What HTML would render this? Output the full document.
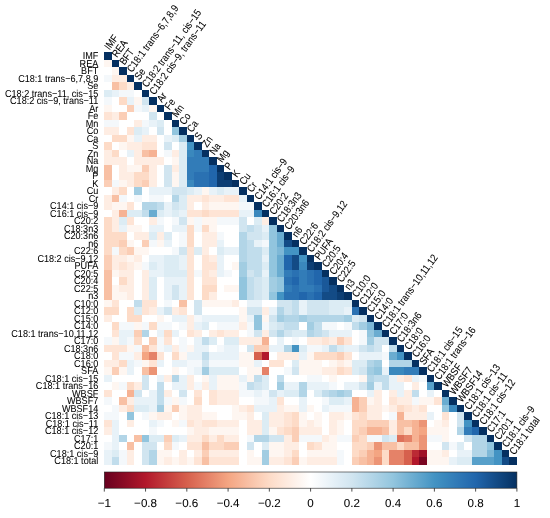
<!DOCTYPE html><html><head><meta charset="utf-8"><style>html,body{margin:0;padding:0;background:#fff;}svg{display:block;}text{font-family:"Liberation Sans",Arial,sans-serif;fill:#000;text-rendering:geometricPrecision;stroke:#000;stroke-width:0.05px;}</style></head><body>
<svg width="550" height="518" viewBox="0 0 550 518">
<rect width="550" height="518" fill="#fff"/>
<g shape-rendering="crispEdges">
<rect x="104.20" y="52.20" width="7.55" height="7.55" fill="#053061"/>
<rect x="104.20" y="59.70" width="7.55" height="7.55" fill="#fef6f1"/>
<rect x="111.70" y="59.70" width="7.55" height="7.55" fill="#053061"/>
<rect x="104.20" y="67.20" width="7.55" height="7.55" fill="#ffffff"/>
<rect x="111.70" y="67.20" width="7.55" height="7.55" fill="#fef6f1"/>
<rect x="119.20" y="67.20" width="7.55" height="7.55" fill="#053061"/>
<rect x="104.20" y="74.70" width="7.55" height="7.55" fill="#f4f8fb"/>
<rect x="111.70" y="74.70" width="7.55" height="7.55" fill="#feede3"/>
<rect x="119.20" y="74.70" width="7.55" height="7.55" fill="#feede3"/>
<rect x="126.70" y="74.70" width="7.55" height="7.55" fill="#053061"/>
<rect x="104.20" y="82.20" width="7.55" height="7.55" fill="#ffffff"/>
<rect x="111.70" y="82.20" width="7.55" height="7.55" fill="#f8c0a4"/>
<rect x="119.20" y="82.20" width="7.55" height="7.55" fill="#fddbc7"/>
<rect x="126.70" y="82.20" width="7.55" height="7.55" fill="#feede3"/>
<rect x="134.20" y="82.20" width="7.55" height="7.55" fill="#053061"/>
<rect x="104.20" y="89.70" width="7.55" height="7.55" fill="#dcecf4"/>
<rect x="111.70" y="89.70" width="7.55" height="7.55" fill="#e8f2f8"/>
<rect x="119.20" y="89.70" width="7.55" height="7.55" fill="#f4f8fb"/>
<rect x="126.70" y="89.70" width="7.55" height="7.55" fill="#f4f8fb"/>
<rect x="134.20" y="89.70" width="7.55" height="7.55" fill="#ffffff"/>
<rect x="141.70" y="89.70" width="7.55" height="7.55" fill="#053061"/>
<rect x="104.20" y="97.20" width="7.55" height="7.55" fill="#f4f8fb"/>
<rect x="111.70" y="97.20" width="7.55" height="7.55" fill="#ffffff"/>
<rect x="119.20" y="97.20" width="7.55" height="7.55" fill="#fddbc7"/>
<rect x="126.70" y="97.20" width="7.55" height="7.55" fill="#e8f2f8"/>
<rect x="134.20" y="97.20" width="7.55" height="7.55" fill="#fef6f1"/>
<rect x="141.70" y="97.20" width="7.55" height="7.55" fill="#d1e5f0"/>
<rect x="149.20" y="97.20" width="7.55" height="7.55" fill="#053061"/>
<rect x="104.20" y="104.70" width="7.55" height="7.55" fill="#fef6f1"/>
<rect x="111.70" y="104.70" width="7.55" height="7.55" fill="#ffffff"/>
<rect x="119.20" y="104.70" width="7.55" height="7.55" fill="#ffffff"/>
<rect x="126.70" y="104.70" width="7.55" height="7.55" fill="#fbceb6"/>
<rect x="134.20" y="104.70" width="7.55" height="7.55" fill="#f4f8fb"/>
<rect x="141.70" y="104.70" width="7.55" height="7.55" fill="#e8f2f8"/>
<rect x="149.20" y="104.70" width="7.55" height="7.55" fill="#fef6f1"/>
<rect x="156.70" y="104.70" width="7.55" height="7.55" fill="#053061"/>
<rect x="104.20" y="112.20" width="7.55" height="7.55" fill="#fee4d5"/>
<rect x="111.70" y="112.20" width="7.55" height="7.55" fill="#feede3"/>
<rect x="119.20" y="112.20" width="7.55" height="7.55" fill="#fbceb6"/>
<rect x="126.70" y="112.20" width="7.55" height="7.55" fill="#ffffff"/>
<rect x="134.20" y="112.20" width="7.55" height="7.55" fill="#ffffff"/>
<rect x="141.70" y="112.20" width="7.55" height="7.55" fill="#ffffff"/>
<rect x="149.20" y="112.20" width="7.55" height="7.55" fill="#d1e5f0"/>
<rect x="156.70" y="112.20" width="7.55" height="7.55" fill="#ffffff"/>
<rect x="164.20" y="112.20" width="7.55" height="7.55" fill="#053061"/>
<rect x="104.20" y="119.70" width="7.55" height="7.55" fill="#f4f8fb"/>
<rect x="111.70" y="119.70" width="7.55" height="7.55" fill="#f4f8fb"/>
<rect x="119.20" y="119.70" width="7.55" height="7.55" fill="#ffffff"/>
<rect x="126.70" y="119.70" width="7.55" height="7.55" fill="#ffffff"/>
<rect x="134.20" y="119.70" width="7.55" height="7.55" fill="#feede3"/>
<rect x="141.70" y="119.70" width="7.55" height="7.55" fill="#f4f8fb"/>
<rect x="149.20" y="119.70" width="7.55" height="7.55" fill="#e8f2f8"/>
<rect x="156.70" y="119.70" width="7.55" height="7.55" fill="#dcecf4"/>
<rect x="164.20" y="119.70" width="7.55" height="7.55" fill="#ffffff"/>
<rect x="171.70" y="119.70" width="7.55" height="7.55" fill="#053061"/>
<rect x="104.20" y="127.20" width="7.55" height="7.55" fill="#feede3"/>
<rect x="111.70" y="127.20" width="7.55" height="7.55" fill="#feede3"/>
<rect x="119.20" y="127.20" width="7.55" height="7.55" fill="#ffffff"/>
<rect x="126.70" y="127.20" width="7.55" height="7.55" fill="#fee4d5"/>
<rect x="134.20" y="127.20" width="7.55" height="7.55" fill="#dcecf4"/>
<rect x="141.70" y="127.20" width="7.55" height="7.55" fill="#e8f2f8"/>
<rect x="149.20" y="127.20" width="7.55" height="7.55" fill="#ffffff"/>
<rect x="156.70" y="127.20" width="7.55" height="7.55" fill="#d1e5f0"/>
<rect x="164.20" y="127.20" width="7.55" height="7.55" fill="#ffffff"/>
<rect x="171.70" y="127.20" width="7.55" height="7.55" fill="#92c5de"/>
<rect x="179.20" y="127.20" width="7.55" height="7.55" fill="#053061"/>
<rect x="104.20" y="134.70" width="7.55" height="7.55" fill="#ffffff"/>
<rect x="111.70" y="134.70" width="7.55" height="7.55" fill="#fddbc7"/>
<rect x="119.20" y="134.70" width="7.55" height="7.55" fill="#fddbc7"/>
<rect x="126.70" y="134.70" width="7.55" height="7.55" fill="#fef6f1"/>
<rect x="134.20" y="134.70" width="7.55" height="7.55" fill="#e8f2f8"/>
<rect x="141.70" y="134.70" width="7.55" height="7.55" fill="#feede3"/>
<rect x="149.20" y="134.70" width="7.55" height="7.55" fill="#feede3"/>
<rect x="156.70" y="134.70" width="7.55" height="7.55" fill="#ffffff"/>
<rect x="164.20" y="134.70" width="7.55" height="7.55" fill="#e8f2f8"/>
<rect x="171.70" y="134.70" width="7.55" height="7.55" fill="#dcecf4"/>
<rect x="179.20" y="134.70" width="7.55" height="7.55" fill="#a2cde2"/>
<rect x="186.70" y="134.70" width="7.55" height="7.55" fill="#053061"/>
<rect x="104.20" y="142.20" width="7.55" height="7.55" fill="#fddbc7"/>
<rect x="111.70" y="142.20" width="7.55" height="7.55" fill="#ffffff"/>
<rect x="119.20" y="142.20" width="7.55" height="7.55" fill="#fef6f1"/>
<rect x="126.70" y="142.20" width="7.55" height="7.55" fill="#feede3"/>
<rect x="134.20" y="142.20" width="7.55" height="7.55" fill="#feede3"/>
<rect x="141.70" y="142.20" width="7.55" height="7.55" fill="#fee4d5"/>
<rect x="149.20" y="142.20" width="7.55" height="7.55" fill="#fee4d5"/>
<rect x="156.70" y="142.20" width="7.55" height="7.55" fill="#ffffff"/>
<rect x="164.20" y="142.20" width="7.55" height="7.55" fill="#d1e5f0"/>
<rect x="171.70" y="142.20" width="7.55" height="7.55" fill="#ffffff"/>
<rect x="179.20" y="142.20" width="7.55" height="7.55" fill="#dcecf4"/>
<rect x="186.70" y="142.20" width="7.55" height="7.55" fill="#4393c3"/>
<rect x="194.20" y="142.20" width="7.55" height="7.55" fill="#053061"/>
<rect x="104.20" y="149.70" width="7.55" height="7.55" fill="#feede3"/>
<rect x="111.70" y="149.70" width="7.55" height="7.55" fill="#fddbc7"/>
<rect x="119.20" y="149.70" width="7.55" height="7.55" fill="#ffffff"/>
<rect x="126.70" y="149.70" width="7.55" height="7.55" fill="#e8f2f8"/>
<rect x="134.20" y="149.70" width="7.55" height="7.55" fill="#feede3"/>
<rect x="141.70" y="149.70" width="7.55" height="7.55" fill="#f8c0a4"/>
<rect x="149.20" y="149.70" width="7.55" height="7.55" fill="#f6b293"/>
<rect x="156.70" y="149.70" width="7.55" height="7.55" fill="#ffffff"/>
<rect x="164.20" y="149.70" width="7.55" height="7.55" fill="#f4f8fb"/>
<rect x="171.70" y="149.70" width="7.55" height="7.55" fill="#feede3"/>
<rect x="179.20" y="149.70" width="7.55" height="7.55" fill="#dcecf4"/>
<rect x="186.70" y="149.70" width="7.55" height="7.55" fill="#3a88bd"/>
<rect x="194.20" y="149.70" width="7.55" height="7.55" fill="#327cb8"/>
<rect x="201.70" y="149.70" width="7.55" height="7.55" fill="#053061"/>
<rect x="104.20" y="157.20" width="7.55" height="7.55" fill="#feede3"/>
<rect x="111.70" y="157.20" width="7.55" height="7.55" fill="#feede3"/>
<rect x="119.20" y="157.20" width="7.55" height="7.55" fill="#feede3"/>
<rect x="126.70" y="157.20" width="7.55" height="7.55" fill="#ffffff"/>
<rect x="134.20" y="157.20" width="7.55" height="7.55" fill="#feede3"/>
<rect x="141.70" y="157.20" width="7.55" height="7.55" fill="#feede3"/>
<rect x="149.20" y="157.20" width="7.55" height="7.55" fill="#feede3"/>
<rect x="156.70" y="157.20" width="7.55" height="7.55" fill="#feede3"/>
<rect x="164.20" y="157.20" width="7.55" height="7.55" fill="#ffffff"/>
<rect x="171.70" y="157.20" width="7.55" height="7.55" fill="#fef6f1"/>
<rect x="179.20" y="157.20" width="7.55" height="7.55" fill="#dcecf4"/>
<rect x="186.70" y="157.20" width="7.55" height="7.55" fill="#327cb8"/>
<rect x="194.20" y="157.20" width="7.55" height="7.55" fill="#327cb8"/>
<rect x="201.70" y="157.20" width="7.55" height="7.55" fill="#327cb8"/>
<rect x="209.20" y="157.20" width="7.55" height="7.55" fill="#053061"/>
<rect x="104.20" y="164.70" width="7.55" height="7.55" fill="#f8c0a4"/>
<rect x="111.70" y="164.70" width="7.55" height="7.55" fill="#ffffff"/>
<rect x="119.20" y="164.70" width="7.55" height="7.55" fill="#feede3"/>
<rect x="126.70" y="164.70" width="7.55" height="7.55" fill="#fef6f1"/>
<rect x="134.20" y="164.70" width="7.55" height="7.55" fill="#fef6f1"/>
<rect x="141.70" y="164.70" width="7.55" height="7.55" fill="#fbceb6"/>
<rect x="149.20" y="164.70" width="7.55" height="7.55" fill="#feede3"/>
<rect x="156.70" y="164.70" width="7.55" height="7.55" fill="#ffffff"/>
<rect x="164.20" y="164.70" width="7.55" height="7.55" fill="#d1e5f0"/>
<rect x="171.70" y="164.70" width="7.55" height="7.55" fill="#feede3"/>
<rect x="179.20" y="164.70" width="7.55" height="7.55" fill="#dcecf4"/>
<rect x="186.70" y="164.70" width="7.55" height="7.55" fill="#327cb8"/>
<rect x="194.20" y="164.70" width="7.55" height="7.55" fill="#327cb8"/>
<rect x="201.70" y="164.70" width="7.55" height="7.55" fill="#327cb8"/>
<rect x="209.20" y="164.70" width="7.55" height="7.55" fill="#2166ac"/>
<rect x="216.70" y="164.70" width="7.55" height="7.55" fill="#053061"/>
<rect x="104.20" y="172.20" width="7.55" height="7.55" fill="#f8c0a4"/>
<rect x="111.70" y="172.20" width="7.55" height="7.55" fill="#ffffff"/>
<rect x="119.20" y="172.20" width="7.55" height="7.55" fill="#feede3"/>
<rect x="126.70" y="172.20" width="7.55" height="7.55" fill="#feede3"/>
<rect x="134.20" y="172.20" width="7.55" height="7.55" fill="#fddbc7"/>
<rect x="141.70" y="172.20" width="7.55" height="7.55" fill="#fddbc7"/>
<rect x="149.20" y="172.20" width="7.55" height="7.55" fill="#feede3"/>
<rect x="156.70" y="172.20" width="7.55" height="7.55" fill="#ffffff"/>
<rect x="164.20" y="172.20" width="7.55" height="7.55" fill="#d1e5f0"/>
<rect x="171.70" y="172.20" width="7.55" height="7.55" fill="#fef6f1"/>
<rect x="179.20" y="172.20" width="7.55" height="7.55" fill="#dcecf4"/>
<rect x="186.70" y="172.20" width="7.55" height="7.55" fill="#327cb8"/>
<rect x="194.20" y="172.20" width="7.55" height="7.55" fill="#2a71b2"/>
<rect x="201.70" y="172.20" width="7.55" height="7.55" fill="#2a71b2"/>
<rect x="209.20" y="172.20" width="7.55" height="7.55" fill="#2166ac"/>
<rect x="216.70" y="172.20" width="7.55" height="7.55" fill="#0c3e74"/>
<rect x="224.20" y="172.20" width="7.55" height="7.55" fill="#053061"/>
<rect x="104.20" y="179.70" width="7.55" height="7.55" fill="#fbceb6"/>
<rect x="111.70" y="179.70" width="7.55" height="7.55" fill="#f4f8fb"/>
<rect x="119.20" y="179.70" width="7.55" height="7.55" fill="#fef6f1"/>
<rect x="126.70" y="179.70" width="7.55" height="7.55" fill="#feede3"/>
<rect x="134.20" y="179.70" width="7.55" height="7.55" fill="#fddbc7"/>
<rect x="141.70" y="179.70" width="7.55" height="7.55" fill="#fbceb6"/>
<rect x="149.20" y="179.70" width="7.55" height="7.55" fill="#feede3"/>
<rect x="156.70" y="179.70" width="7.55" height="7.55" fill="#ffffff"/>
<rect x="164.20" y="179.70" width="7.55" height="7.55" fill="#d1e5f0"/>
<rect x="171.70" y="179.70" width="7.55" height="7.55" fill="#fef6f1"/>
<rect x="179.20" y="179.70" width="7.55" height="7.55" fill="#dcecf4"/>
<rect x="186.70" y="179.70" width="7.55" height="7.55" fill="#3a88bd"/>
<rect x="194.20" y="179.70" width="7.55" height="7.55" fill="#2a71b2"/>
<rect x="201.70" y="179.70" width="7.55" height="7.55" fill="#2a71b2"/>
<rect x="209.20" y="179.70" width="7.55" height="7.55" fill="#2166ac"/>
<rect x="216.70" y="179.70" width="7.55" height="7.55" fill="#0c3e74"/>
<rect x="224.20" y="179.70" width="7.55" height="7.55" fill="#0c3e74"/>
<rect x="231.70" y="179.70" width="7.55" height="7.55" fill="#053061"/>
<rect x="104.20" y="187.20" width="7.55" height="7.55" fill="#ffffff"/>
<rect x="111.70" y="187.20" width="7.55" height="7.55" fill="#feede3"/>
<rect x="119.20" y="187.20" width="7.55" height="7.55" fill="#fddbc7"/>
<rect x="126.70" y="187.20" width="7.55" height="7.55" fill="#ffffff"/>
<rect x="134.20" y="187.20" width="7.55" height="7.55" fill="#a2cde2"/>
<rect x="141.70" y="187.20" width="7.55" height="7.55" fill="#ffffff"/>
<rect x="149.20" y="187.20" width="7.55" height="7.55" fill="#e8f2f8"/>
<rect x="156.70" y="187.20" width="7.55" height="7.55" fill="#e8f2f8"/>
<rect x="164.20" y="187.20" width="7.55" height="7.55" fill="#e8f2f8"/>
<rect x="171.70" y="187.20" width="7.55" height="7.55" fill="#d1e5f0"/>
<rect x="179.20" y="187.20" width="7.55" height="7.55" fill="#d1e5f0"/>
<rect x="186.70" y="187.20" width="7.55" height="7.55" fill="#dcecf4"/>
<rect x="194.20" y="187.20" width="7.55" height="7.55" fill="#e8f2f8"/>
<rect x="201.70" y="187.20" width="7.55" height="7.55" fill="#fef6f1"/>
<rect x="209.20" y="187.20" width="7.55" height="7.55" fill="#e8f2f8"/>
<rect x="216.70" y="187.20" width="7.55" height="7.55" fill="#dcecf4"/>
<rect x="224.20" y="187.20" width="7.55" height="7.55" fill="#e8f2f8"/>
<rect x="231.70" y="187.20" width="7.55" height="7.55" fill="#e8f2f8"/>
<rect x="239.20" y="187.20" width="7.55" height="7.55" fill="#053061"/>
<rect x="104.20" y="194.70" width="7.55" height="7.55" fill="#feede3"/>
<rect x="111.70" y="194.70" width="7.55" height="7.55" fill="#f8c0a4"/>
<rect x="119.20" y="194.70" width="7.55" height="7.55" fill="#f4f8fb"/>
<rect x="126.70" y="194.70" width="7.55" height="7.55" fill="#ffffff"/>
<rect x="134.20" y="194.70" width="7.55" height="7.55" fill="#f4f8fb"/>
<rect x="141.70" y="194.70" width="7.55" height="7.55" fill="#ffffff"/>
<rect x="149.20" y="194.70" width="7.55" height="7.55" fill="#f4f8fb"/>
<rect x="156.70" y="194.70" width="7.55" height="7.55" fill="#f4f8fb"/>
<rect x="164.20" y="194.70" width="7.55" height="7.55" fill="#ffffff"/>
<rect x="171.70" y="194.70" width="7.55" height="7.55" fill="#b2d5e7"/>
<rect x="179.20" y="194.70" width="7.55" height="7.55" fill="#dcecf4"/>
<rect x="186.70" y="194.70" width="7.55" height="7.55" fill="#feede3"/>
<rect x="194.20" y="194.70" width="7.55" height="7.55" fill="#feede3"/>
<rect x="201.70" y="194.70" width="7.55" height="7.55" fill="#fee4d5"/>
<rect x="209.20" y="194.70" width="7.55" height="7.55" fill="#feede3"/>
<rect x="216.70" y="194.70" width="7.55" height="7.55" fill="#feede3"/>
<rect x="224.20" y="194.70" width="7.55" height="7.55" fill="#fee4d5"/>
<rect x="231.70" y="194.70" width="7.55" height="7.55" fill="#fee4d5"/>
<rect x="239.20" y="194.70" width="7.55" height="7.55" fill="#e8f2f8"/>
<rect x="246.70" y="194.70" width="7.55" height="7.55" fill="#053061"/>
<rect x="104.20" y="202.20" width="7.55" height="7.55" fill="#feede3"/>
<rect x="111.70" y="202.20" width="7.55" height="7.55" fill="#fef6f1"/>
<rect x="119.20" y="202.20" width="7.55" height="7.55" fill="#fef6f1"/>
<rect x="126.70" y="202.20" width="7.55" height="7.55" fill="#fee4d5"/>
<rect x="134.20" y="202.20" width="7.55" height="7.55" fill="#ffffff"/>
<rect x="141.70" y="202.20" width="7.55" height="7.55" fill="#b2d5e7"/>
<rect x="149.20" y="202.20" width="7.55" height="7.55" fill="#b2d5e7"/>
<rect x="156.70" y="202.20" width="7.55" height="7.55" fill="#c1ddec"/>
<rect x="164.20" y="202.20" width="7.55" height="7.55" fill="#e8f2f8"/>
<rect x="171.70" y="202.20" width="7.55" height="7.55" fill="#d1e5f0"/>
<rect x="179.20" y="202.20" width="7.55" height="7.55" fill="#dcecf4"/>
<rect x="186.70" y="202.20" width="7.55" height="7.55" fill="#feede3"/>
<rect x="194.20" y="202.20" width="7.55" height="7.55" fill="#ffffff"/>
<rect x="201.70" y="202.20" width="7.55" height="7.55" fill="#feede3"/>
<rect x="209.20" y="202.20" width="7.55" height="7.55" fill="#fef6f1"/>
<rect x="216.70" y="202.20" width="7.55" height="7.55" fill="#fef6f1"/>
<rect x="224.20" y="202.20" width="7.55" height="7.55" fill="#fef6f1"/>
<rect x="231.70" y="202.20" width="7.55" height="7.55" fill="#fef6f1"/>
<rect x="239.20" y="202.20" width="7.55" height="7.55" fill="#f4f8fb"/>
<rect x="246.70" y="202.20" width="7.55" height="7.55" fill="#f4f8fb"/>
<rect x="254.20" y="202.20" width="7.55" height="7.55" fill="#053061"/>
<rect x="104.20" y="209.70" width="7.55" height="7.55" fill="#ffffff"/>
<rect x="111.70" y="209.70" width="7.55" height="7.55" fill="#feede3"/>
<rect x="119.20" y="209.70" width="7.55" height="7.55" fill="#f6b293"/>
<rect x="126.70" y="209.70" width="7.55" height="7.55" fill="#dcecf4"/>
<rect x="134.20" y="209.70" width="7.55" height="7.55" fill="#dcecf4"/>
<rect x="141.70" y="209.70" width="7.55" height="7.55" fill="#c1ddec"/>
<rect x="149.20" y="209.70" width="7.55" height="7.55" fill="#6aacd0"/>
<rect x="156.70" y="209.70" width="7.55" height="7.55" fill="#dcecf4"/>
<rect x="164.20" y="209.70" width="7.55" height="7.55" fill="#e8f2f8"/>
<rect x="171.70" y="209.70" width="7.55" height="7.55" fill="#dcecf4"/>
<rect x="179.20" y="209.70" width="7.55" height="7.55" fill="#e8f2f8"/>
<rect x="186.70" y="209.70" width="7.55" height="7.55" fill="#fee4d5"/>
<rect x="194.20" y="209.70" width="7.55" height="7.55" fill="#fee4d5"/>
<rect x="201.70" y="209.70" width="7.55" height="7.55" fill="#fddbc7"/>
<rect x="209.20" y="209.70" width="7.55" height="7.55" fill="#fee4d5"/>
<rect x="216.70" y="209.70" width="7.55" height="7.55" fill="#fee4d5"/>
<rect x="224.20" y="209.70" width="7.55" height="7.55" fill="#fee4d5"/>
<rect x="231.70" y="209.70" width="7.55" height="7.55" fill="#fee4d5"/>
<rect x="239.20" y="209.70" width="7.55" height="7.55" fill="#e8f2f8"/>
<rect x="246.70" y="209.70" width="7.55" height="7.55" fill="#e8f2f8"/>
<rect x="254.20" y="209.70" width="7.55" height="7.55" fill="#3a88bd"/>
<rect x="261.70" y="209.70" width="7.55" height="7.55" fill="#053061"/>
<rect x="104.20" y="217.20" width="7.55" height="7.55" fill="#fddbc7"/>
<rect x="111.70" y="217.20" width="7.55" height="7.55" fill="#feede3"/>
<rect x="119.20" y="217.20" width="7.55" height="7.55" fill="#dcecf4"/>
<rect x="126.70" y="217.20" width="7.55" height="7.55" fill="#fee4d5"/>
<rect x="134.20" y="217.20" width="7.55" height="7.55" fill="#ffffff"/>
<rect x="141.70" y="217.20" width="7.55" height="7.55" fill="#ffffff"/>
<rect x="149.20" y="217.20" width="7.55" height="7.55" fill="#feede3"/>
<rect x="156.70" y="217.20" width="7.55" height="7.55" fill="#f4f8fb"/>
<rect x="164.20" y="217.20" width="7.55" height="7.55" fill="#ffffff"/>
<rect x="171.70" y="217.20" width="7.55" height="7.55" fill="#f4f8fb"/>
<rect x="179.20" y="217.20" width="7.55" height="7.55" fill="#d1e5f0"/>
<rect x="186.70" y="217.20" width="7.55" height="7.55" fill="#fef6f1"/>
<rect x="194.20" y="217.20" width="7.55" height="7.55" fill="#f4f8fb"/>
<rect x="201.70" y="217.20" width="7.55" height="7.55" fill="#fef6f1"/>
<rect x="209.20" y="217.20" width="7.55" height="7.55" fill="#fef6f1"/>
<rect x="216.70" y="217.20" width="7.55" height="7.55" fill="#f4f8fb"/>
<rect x="224.20" y="217.20" width="7.55" height="7.55" fill="#f4f8fb"/>
<rect x="231.70" y="217.20" width="7.55" height="7.55" fill="#f4f8fb"/>
<rect x="239.20" y="217.20" width="7.55" height="7.55" fill="#d1e5f0"/>
<rect x="246.70" y="217.20" width="7.55" height="7.55" fill="#ffffff"/>
<rect x="254.20" y="217.20" width="7.55" height="7.55" fill="#dcecf4"/>
<rect x="261.70" y="217.20" width="7.55" height="7.55" fill="#feede3"/>
<rect x="269.20" y="217.20" width="7.55" height="7.55" fill="#053061"/>
<rect x="104.20" y="224.70" width="7.55" height="7.55" fill="#fddbc7"/>
<rect x="111.70" y="224.70" width="7.55" height="7.55" fill="#feede3"/>
<rect x="119.20" y="224.70" width="7.55" height="7.55" fill="#e8f2f8"/>
<rect x="126.70" y="224.70" width="7.55" height="7.55" fill="#fef6f1"/>
<rect x="134.20" y="224.70" width="7.55" height="7.55" fill="#fef6f1"/>
<rect x="141.70" y="224.70" width="7.55" height="7.55" fill="#ffffff"/>
<rect x="149.20" y="224.70" width="7.55" height="7.55" fill="#e8f2f8"/>
<rect x="156.70" y="224.70" width="7.55" height="7.55" fill="#e8f2f8"/>
<rect x="164.20" y="224.70" width="7.55" height="7.55" fill="#ffffff"/>
<rect x="171.70" y="224.70" width="7.55" height="7.55" fill="#e8f2f8"/>
<rect x="179.20" y="224.70" width="7.55" height="7.55" fill="#e8f2f8"/>
<rect x="186.70" y="224.70" width="7.55" height="7.55" fill="#fddbc7"/>
<rect x="194.20" y="224.70" width="7.55" height="7.55" fill="#f4f8fb"/>
<rect x="201.70" y="224.70" width="7.55" height="7.55" fill="#fddbc7"/>
<rect x="209.20" y="224.70" width="7.55" height="7.55" fill="#fef6f1"/>
<rect x="216.70" y="224.70" width="7.55" height="7.55" fill="#ffffff"/>
<rect x="224.20" y="224.70" width="7.55" height="7.55" fill="#ffffff"/>
<rect x="231.70" y="224.70" width="7.55" height="7.55" fill="#ffffff"/>
<rect x="239.20" y="224.70" width="7.55" height="7.55" fill="#d1e5f0"/>
<rect x="246.70" y="224.70" width="7.55" height="7.55" fill="#c1ddec"/>
<rect x="254.20" y="224.70" width="7.55" height="7.55" fill="#d1e5f0"/>
<rect x="261.70" y="224.70" width="7.55" height="7.55" fill="#e8f2f8"/>
<rect x="269.20" y="224.70" width="7.55" height="7.55" fill="#92c5de"/>
<rect x="276.70" y="224.70" width="7.55" height="7.55" fill="#053061"/>
<rect x="104.20" y="232.20" width="7.55" height="7.55" fill="#fddbc7"/>
<rect x="111.70" y="232.20" width="7.55" height="7.55" fill="#fddbc7"/>
<rect x="119.20" y="232.20" width="7.55" height="7.55" fill="#fddbc7"/>
<rect x="126.70" y="232.20" width="7.55" height="7.55" fill="#ffffff"/>
<rect x="134.20" y="232.20" width="7.55" height="7.55" fill="#feede3"/>
<rect x="141.70" y="232.20" width="7.55" height="7.55" fill="#feede3"/>
<rect x="149.20" y="232.20" width="7.55" height="7.55" fill="#dcecf4"/>
<rect x="156.70" y="232.20" width="7.55" height="7.55" fill="#feede3"/>
<rect x="164.20" y="232.20" width="7.55" height="7.55" fill="#dcecf4"/>
<rect x="171.70" y="232.20" width="7.55" height="7.55" fill="#ffffff"/>
<rect x="179.20" y="232.20" width="7.55" height="7.55" fill="#f4f8fb"/>
<rect x="186.70" y="232.20" width="7.55" height="7.55" fill="#fddbc7"/>
<rect x="194.20" y="232.20" width="7.55" height="7.55" fill="#ffffff"/>
<rect x="201.70" y="232.20" width="7.55" height="7.55" fill="#feede3"/>
<rect x="209.20" y="232.20" width="7.55" height="7.55" fill="#feede3"/>
<rect x="216.70" y="232.20" width="7.55" height="7.55" fill="#f4f8fb"/>
<rect x="224.20" y="232.20" width="7.55" height="7.55" fill="#ffffff"/>
<rect x="231.70" y="232.20" width="7.55" height="7.55" fill="#ffffff"/>
<rect x="239.20" y="232.20" width="7.55" height="7.55" fill="#b2d5e7"/>
<rect x="246.70" y="232.20" width="7.55" height="7.55" fill="#d1e5f0"/>
<rect x="254.20" y="232.20" width="7.55" height="7.55" fill="#d1e5f0"/>
<rect x="261.70" y="232.20" width="7.55" height="7.55" fill="#dcecf4"/>
<rect x="269.20" y="232.20" width="7.55" height="7.55" fill="#92c5de"/>
<rect x="276.70" y="232.20" width="7.55" height="7.55" fill="#6aacd0"/>
<rect x="284.20" y="232.20" width="7.55" height="7.55" fill="#053061"/>
<rect x="104.20" y="239.70" width="7.55" height="7.55" fill="#fddbc7"/>
<rect x="111.70" y="239.70" width="7.55" height="7.55" fill="#fddbc7"/>
<rect x="119.20" y="239.70" width="7.55" height="7.55" fill="#fbceb6"/>
<rect x="126.70" y="239.70" width="7.55" height="7.55" fill="#fef6f1"/>
<rect x="134.20" y="239.70" width="7.55" height="7.55" fill="#ffffff"/>
<rect x="141.70" y="239.70" width="7.55" height="7.55" fill="#fbceb6"/>
<rect x="149.20" y="239.70" width="7.55" height="7.55" fill="#f4f8fb"/>
<rect x="156.70" y="239.70" width="7.55" height="7.55" fill="#fef6f1"/>
<rect x="164.20" y="239.70" width="7.55" height="7.55" fill="#e8f2f8"/>
<rect x="171.70" y="239.70" width="7.55" height="7.55" fill="#ffffff"/>
<rect x="179.20" y="239.70" width="7.55" height="7.55" fill="#f4f8fb"/>
<rect x="186.70" y="239.70" width="7.55" height="7.55" fill="#fddbc7"/>
<rect x="194.20" y="239.70" width="7.55" height="7.55" fill="#ffffff"/>
<rect x="201.70" y="239.70" width="7.55" height="7.55" fill="#feede3"/>
<rect x="209.20" y="239.70" width="7.55" height="7.55" fill="#feede3"/>
<rect x="216.70" y="239.70" width="7.55" height="7.55" fill="#e8f2f8"/>
<rect x="224.20" y="239.70" width="7.55" height="7.55" fill="#ffffff"/>
<rect x="231.70" y="239.70" width="7.55" height="7.55" fill="#ffffff"/>
<rect x="239.20" y="239.70" width="7.55" height="7.55" fill="#b2d5e7"/>
<rect x="246.70" y="239.70" width="7.55" height="7.55" fill="#c1ddec"/>
<rect x="254.20" y="239.70" width="7.55" height="7.55" fill="#e8f2f8"/>
<rect x="261.70" y="239.70" width="7.55" height="7.55" fill="#f4f8fb"/>
<rect x="269.20" y="239.70" width="7.55" height="7.55" fill="#92c5de"/>
<rect x="276.70" y="239.70" width="7.55" height="7.55" fill="#6aacd0"/>
<rect x="284.20" y="239.70" width="7.55" height="7.55" fill="#134b86"/>
<rect x="291.70" y="239.70" width="7.55" height="7.55" fill="#053061"/>
<rect x="104.20" y="247.20" width="7.55" height="7.55" fill="#fddbc7"/>
<rect x="111.70" y="247.20" width="7.55" height="7.55" fill="#f4f8fb"/>
<rect x="119.20" y="247.20" width="7.55" height="7.55" fill="#fddbc7"/>
<rect x="126.70" y="247.20" width="7.55" height="7.55" fill="#fbceb6"/>
<rect x="134.20" y="247.20" width="7.55" height="7.55" fill="#fef6f1"/>
<rect x="141.70" y="247.20" width="7.55" height="7.55" fill="#fef6f1"/>
<rect x="149.20" y="247.20" width="7.55" height="7.55" fill="#ffffff"/>
<rect x="156.70" y="247.20" width="7.55" height="7.55" fill="#ffffff"/>
<rect x="164.20" y="247.20" width="7.55" height="7.55" fill="#ffffff"/>
<rect x="171.70" y="247.20" width="7.55" height="7.55" fill="#f4f8fb"/>
<rect x="179.20" y="247.20" width="7.55" height="7.55" fill="#d1e5f0"/>
<rect x="186.70" y="247.20" width="7.55" height="7.55" fill="#fee4d5"/>
<rect x="194.20" y="247.20" width="7.55" height="7.55" fill="#dcecf4"/>
<rect x="201.70" y="247.20" width="7.55" height="7.55" fill="#feede3"/>
<rect x="209.20" y="247.20" width="7.55" height="7.55" fill="#ffffff"/>
<rect x="216.70" y="247.20" width="7.55" height="7.55" fill="#dcecf4"/>
<rect x="224.20" y="247.20" width="7.55" height="7.55" fill="#e8f2f8"/>
<rect x="231.70" y="247.20" width="7.55" height="7.55" fill="#e8f2f8"/>
<rect x="239.20" y="247.20" width="7.55" height="7.55" fill="#b2d5e7"/>
<rect x="246.70" y="247.20" width="7.55" height="7.55" fill="#c1ddec"/>
<rect x="254.20" y="247.20" width="7.55" height="7.55" fill="#c1ddec"/>
<rect x="261.70" y="247.20" width="7.55" height="7.55" fill="#dcecf4"/>
<rect x="269.20" y="247.20" width="7.55" height="7.55" fill="#92c5de"/>
<rect x="276.70" y="247.20" width="7.55" height="7.55" fill="#7eb8d7"/>
<rect x="284.20" y="247.20" width="7.55" height="7.55" fill="#4393c3"/>
<rect x="291.70" y="247.20" width="7.55" height="7.55" fill="#4393c3"/>
<rect x="299.20" y="247.20" width="7.55" height="7.55" fill="#053061"/>
<rect x="104.20" y="254.70" width="7.55" height="7.55" fill="#fbceb6"/>
<rect x="111.70" y="254.70" width="7.55" height="7.55" fill="#feede3"/>
<rect x="119.20" y="254.70" width="7.55" height="7.55" fill="#feede3"/>
<rect x="126.70" y="254.70" width="7.55" height="7.55" fill="#fef6f1"/>
<rect x="134.20" y="254.70" width="7.55" height="7.55" fill="#feede3"/>
<rect x="141.70" y="254.70" width="7.55" height="7.55" fill="#ffffff"/>
<rect x="149.20" y="254.70" width="7.55" height="7.55" fill="#e8f2f8"/>
<rect x="156.70" y="254.70" width="7.55" height="7.55" fill="#e8f2f8"/>
<rect x="164.20" y="254.70" width="7.55" height="7.55" fill="#dcecf4"/>
<rect x="171.70" y="254.70" width="7.55" height="7.55" fill="#dcecf4"/>
<rect x="179.20" y="254.70" width="7.55" height="7.55" fill="#e8f2f8"/>
<rect x="186.70" y="254.70" width="7.55" height="7.55" fill="#fee4d5"/>
<rect x="194.20" y="254.70" width="7.55" height="7.55" fill="#ffffff"/>
<rect x="201.70" y="254.70" width="7.55" height="7.55" fill="#fee4d5"/>
<rect x="209.20" y="254.70" width="7.55" height="7.55" fill="#feede3"/>
<rect x="216.70" y="254.70" width="7.55" height="7.55" fill="#e8f2f8"/>
<rect x="224.20" y="254.70" width="7.55" height="7.55" fill="#ffffff"/>
<rect x="231.70" y="254.70" width="7.55" height="7.55" fill="#ffffff"/>
<rect x="239.20" y="254.70" width="7.55" height="7.55" fill="#b2d5e7"/>
<rect x="246.70" y="254.70" width="7.55" height="7.55" fill="#c1ddec"/>
<rect x="254.20" y="254.70" width="7.55" height="7.55" fill="#c1ddec"/>
<rect x="261.70" y="254.70" width="7.55" height="7.55" fill="#e8f2f8"/>
<rect x="269.20" y="254.70" width="7.55" height="7.55" fill="#92c5de"/>
<rect x="276.70" y="254.70" width="7.55" height="7.55" fill="#6aacd0"/>
<rect x="284.20" y="254.70" width="7.55" height="7.55" fill="#2166ac"/>
<rect x="291.70" y="254.70" width="7.55" height="7.55" fill="#134b86"/>
<rect x="299.20" y="254.70" width="7.55" height="7.55" fill="#4393c3"/>
<rect x="306.70" y="254.70" width="7.55" height="7.55" fill="#053061"/>
<rect x="104.20" y="262.20" width="7.55" height="7.55" fill="#fbceb6"/>
<rect x="111.70" y="262.20" width="7.55" height="7.55" fill="#feede3"/>
<rect x="119.20" y="262.20" width="7.55" height="7.55" fill="#fee4d5"/>
<rect x="126.70" y="262.20" width="7.55" height="7.55" fill="#feede3"/>
<rect x="134.20" y="262.20" width="7.55" height="7.55" fill="#fef6f1"/>
<rect x="141.70" y="262.20" width="7.55" height="7.55" fill="#f4f8fb"/>
<rect x="149.20" y="262.20" width="7.55" height="7.55" fill="#dcecf4"/>
<rect x="156.70" y="262.20" width="7.55" height="7.55" fill="#e8f2f8"/>
<rect x="164.20" y="262.20" width="7.55" height="7.55" fill="#dcecf4"/>
<rect x="171.70" y="262.20" width="7.55" height="7.55" fill="#dcecf4"/>
<rect x="179.20" y="262.20" width="7.55" height="7.55" fill="#e8f2f8"/>
<rect x="186.70" y="262.20" width="7.55" height="7.55" fill="#fee4d5"/>
<rect x="194.20" y="262.20" width="7.55" height="7.55" fill="#ffffff"/>
<rect x="201.70" y="262.20" width="7.55" height="7.55" fill="#fee4d5"/>
<rect x="209.20" y="262.20" width="7.55" height="7.55" fill="#fee4d5"/>
<rect x="216.70" y="262.20" width="7.55" height="7.55" fill="#e8f2f8"/>
<rect x="224.20" y="262.20" width="7.55" height="7.55" fill="#ffffff"/>
<rect x="231.70" y="262.20" width="7.55" height="7.55" fill="#fef6f1"/>
<rect x="239.20" y="262.20" width="7.55" height="7.55" fill="#a2cde2"/>
<rect x="246.70" y="262.20" width="7.55" height="7.55" fill="#c1ddec"/>
<rect x="254.20" y="262.20" width="7.55" height="7.55" fill="#c1ddec"/>
<rect x="261.70" y="262.20" width="7.55" height="7.55" fill="#dcecf4"/>
<rect x="269.20" y="262.20" width="7.55" height="7.55" fill="#92c5de"/>
<rect x="276.70" y="262.20" width="7.55" height="7.55" fill="#6aacd0"/>
<rect x="284.20" y="262.20" width="7.55" height="7.55" fill="#2166ac"/>
<rect x="291.70" y="262.20" width="7.55" height="7.55" fill="#134b86"/>
<rect x="299.20" y="262.20" width="7.55" height="7.55" fill="#3a88bd"/>
<rect x="306.70" y="262.20" width="7.55" height="7.55" fill="#0c3e74"/>
<rect x="314.20" y="262.20" width="7.55" height="7.55" fill="#053061"/>
<rect x="104.20" y="269.70" width="7.55" height="7.55" fill="#f8c0a4"/>
<rect x="111.70" y="269.70" width="7.55" height="7.55" fill="#fef6f1"/>
<rect x="119.20" y="269.70" width="7.55" height="7.55" fill="#feede3"/>
<rect x="126.70" y="269.70" width="7.55" height="7.55" fill="#feede3"/>
<rect x="134.20" y="269.70" width="7.55" height="7.55" fill="#ffffff"/>
<rect x="141.70" y="269.70" width="7.55" height="7.55" fill="#feede3"/>
<rect x="149.20" y="269.70" width="7.55" height="7.55" fill="#e8f2f8"/>
<rect x="156.70" y="269.70" width="7.55" height="7.55" fill="#e8f2f8"/>
<rect x="164.20" y="269.70" width="7.55" height="7.55" fill="#dcecf4"/>
<rect x="171.70" y="269.70" width="7.55" height="7.55" fill="#dcecf4"/>
<rect x="179.20" y="269.70" width="7.55" height="7.55" fill="#dcecf4"/>
<rect x="186.70" y="269.70" width="7.55" height="7.55" fill="#fee4d5"/>
<rect x="194.20" y="269.70" width="7.55" height="7.55" fill="#f4f8fb"/>
<rect x="201.70" y="269.70" width="7.55" height="7.55" fill="#fee4d5"/>
<rect x="209.20" y="269.70" width="7.55" height="7.55" fill="#feede3"/>
<rect x="216.70" y="269.70" width="7.55" height="7.55" fill="#e8f2f8"/>
<rect x="224.20" y="269.70" width="7.55" height="7.55" fill="#f4f8fb"/>
<rect x="231.70" y="269.70" width="7.55" height="7.55" fill="#ffffff"/>
<rect x="239.20" y="269.70" width="7.55" height="7.55" fill="#a2cde2"/>
<rect x="246.70" y="269.70" width="7.55" height="7.55" fill="#d1e5f0"/>
<rect x="254.20" y="269.70" width="7.55" height="7.55" fill="#c1ddec"/>
<rect x="261.70" y="269.70" width="7.55" height="7.55" fill="#e8f2f8"/>
<rect x="269.20" y="269.70" width="7.55" height="7.55" fill="#92c5de"/>
<rect x="276.70" y="269.70" width="7.55" height="7.55" fill="#6aacd0"/>
<rect x="284.20" y="269.70" width="7.55" height="7.55" fill="#327cb8"/>
<rect x="291.70" y="269.70" width="7.55" height="7.55" fill="#2a71b2"/>
<rect x="299.20" y="269.70" width="7.55" height="7.55" fill="#327cb8"/>
<rect x="306.70" y="269.70" width="7.55" height="7.55" fill="#2a71b2"/>
<rect x="314.20" y="269.70" width="7.55" height="7.55" fill="#2166ac"/>
<rect x="321.70" y="269.70" width="7.55" height="7.55" fill="#053061"/>
<rect x="104.20" y="277.20" width="7.55" height="7.55" fill="#f8c0a4"/>
<rect x="111.70" y="277.20" width="7.55" height="7.55" fill="#ffffff"/>
<rect x="119.20" y="277.20" width="7.55" height="7.55" fill="#fddbc7"/>
<rect x="126.70" y="277.20" width="7.55" height="7.55" fill="#feede3"/>
<rect x="134.20" y="277.20" width="7.55" height="7.55" fill="#ffffff"/>
<rect x="141.70" y="277.20" width="7.55" height="7.55" fill="#feede3"/>
<rect x="149.20" y="277.20" width="7.55" height="7.55" fill="#dcecf4"/>
<rect x="156.70" y="277.20" width="7.55" height="7.55" fill="#ffffff"/>
<rect x="164.20" y="277.20" width="7.55" height="7.55" fill="#e8f2f8"/>
<rect x="171.70" y="277.20" width="7.55" height="7.55" fill="#e8f2f8"/>
<rect x="179.20" y="277.20" width="7.55" height="7.55" fill="#e8f2f8"/>
<rect x="186.70" y="277.20" width="7.55" height="7.55" fill="#fee4d5"/>
<rect x="194.20" y="277.20" width="7.55" height="7.55" fill="#ffffff"/>
<rect x="201.70" y="277.20" width="7.55" height="7.55" fill="#fee4d5"/>
<rect x="209.20" y="277.20" width="7.55" height="7.55" fill="#fee4d5"/>
<rect x="216.70" y="277.20" width="7.55" height="7.55" fill="#ffffff"/>
<rect x="224.20" y="277.20" width="7.55" height="7.55" fill="#ffffff"/>
<rect x="231.70" y="277.20" width="7.55" height="7.55" fill="#ffffff"/>
<rect x="239.20" y="277.20" width="7.55" height="7.55" fill="#92c5de"/>
<rect x="246.70" y="277.20" width="7.55" height="7.55" fill="#c1ddec"/>
<rect x="254.20" y="277.20" width="7.55" height="7.55" fill="#d1e5f0"/>
<rect x="261.70" y="277.20" width="7.55" height="7.55" fill="#dcecf4"/>
<rect x="269.20" y="277.20" width="7.55" height="7.55" fill="#a2cde2"/>
<rect x="276.70" y="277.20" width="7.55" height="7.55" fill="#92c5de"/>
<rect x="284.20" y="277.20" width="7.55" height="7.55" fill="#2a71b2"/>
<rect x="291.70" y="277.20" width="7.55" height="7.55" fill="#2166ac"/>
<rect x="299.20" y="277.20" width="7.55" height="7.55" fill="#327cb8"/>
<rect x="306.70" y="277.20" width="7.55" height="7.55" fill="#2a71b2"/>
<rect x="314.20" y="277.20" width="7.55" height="7.55" fill="#2166ac"/>
<rect x="321.70" y="277.20" width="7.55" height="7.55" fill="#1a5899"/>
<rect x="329.20" y="277.20" width="7.55" height="7.55" fill="#053061"/>
<rect x="104.20" y="284.70" width="7.55" height="7.55" fill="#f8c0a4"/>
<rect x="111.70" y="284.70" width="7.55" height="7.55" fill="#fef6f1"/>
<rect x="119.20" y="284.70" width="7.55" height="7.55" fill="#feede3"/>
<rect x="126.70" y="284.70" width="7.55" height="7.55" fill="#feede3"/>
<rect x="134.20" y="284.70" width="7.55" height="7.55" fill="#ffffff"/>
<rect x="141.70" y="284.70" width="7.55" height="7.55" fill="#feede3"/>
<rect x="149.20" y="284.70" width="7.55" height="7.55" fill="#dcecf4"/>
<rect x="156.70" y="284.70" width="7.55" height="7.55" fill="#ffffff"/>
<rect x="164.20" y="284.70" width="7.55" height="7.55" fill="#e8f2f8"/>
<rect x="171.70" y="284.70" width="7.55" height="7.55" fill="#d1e5f0"/>
<rect x="179.20" y="284.70" width="7.55" height="7.55" fill="#e8f2f8"/>
<rect x="186.70" y="284.70" width="7.55" height="7.55" fill="#fee4d5"/>
<rect x="194.20" y="284.70" width="7.55" height="7.55" fill="#ffffff"/>
<rect x="201.70" y="284.70" width="7.55" height="7.55" fill="#fddbc7"/>
<rect x="209.20" y="284.70" width="7.55" height="7.55" fill="#fddbc7"/>
<rect x="216.70" y="284.70" width="7.55" height="7.55" fill="#ffffff"/>
<rect x="224.20" y="284.70" width="7.55" height="7.55" fill="#fef6f1"/>
<rect x="231.70" y="284.70" width="7.55" height="7.55" fill="#fef6f1"/>
<rect x="239.20" y="284.70" width="7.55" height="7.55" fill="#92c5de"/>
<rect x="246.70" y="284.70" width="7.55" height="7.55" fill="#c1ddec"/>
<rect x="254.20" y="284.70" width="7.55" height="7.55" fill="#d1e5f0"/>
<rect x="261.70" y="284.70" width="7.55" height="7.55" fill="#dcecf4"/>
<rect x="269.20" y="284.70" width="7.55" height="7.55" fill="#a2cde2"/>
<rect x="276.70" y="284.70" width="7.55" height="7.55" fill="#92c5de"/>
<rect x="284.20" y="284.70" width="7.55" height="7.55" fill="#327cb8"/>
<rect x="291.70" y="284.70" width="7.55" height="7.55" fill="#2a71b2"/>
<rect x="299.20" y="284.70" width="7.55" height="7.55" fill="#327cb8"/>
<rect x="306.70" y="284.70" width="7.55" height="7.55" fill="#327cb8"/>
<rect x="314.20" y="284.70" width="7.55" height="7.55" fill="#2a71b2"/>
<rect x="321.70" y="284.70" width="7.55" height="7.55" fill="#1a5899"/>
<rect x="329.20" y="284.70" width="7.55" height="7.55" fill="#134b86"/>
<rect x="336.70" y="284.70" width="7.55" height="7.55" fill="#053061"/>
<rect x="104.20" y="292.20" width="7.55" height="7.55" fill="#f8c0a4"/>
<rect x="111.70" y="292.20" width="7.55" height="7.55" fill="#fef6f1"/>
<rect x="119.20" y="292.20" width="7.55" height="7.55" fill="#fef6f1"/>
<rect x="126.70" y="292.20" width="7.55" height="7.55" fill="#feede3"/>
<rect x="134.20" y="292.20" width="7.55" height="7.55" fill="#ffffff"/>
<rect x="141.70" y="292.20" width="7.55" height="7.55" fill="#feede3"/>
<rect x="149.20" y="292.20" width="7.55" height="7.55" fill="#dcecf4"/>
<rect x="156.70" y="292.20" width="7.55" height="7.55" fill="#ffffff"/>
<rect x="164.20" y="292.20" width="7.55" height="7.55" fill="#e8f2f8"/>
<rect x="171.70" y="292.20" width="7.55" height="7.55" fill="#d1e5f0"/>
<rect x="179.20" y="292.20" width="7.55" height="7.55" fill="#e8f2f8"/>
<rect x="186.70" y="292.20" width="7.55" height="7.55" fill="#fee4d5"/>
<rect x="194.20" y="292.20" width="7.55" height="7.55" fill="#ffffff"/>
<rect x="201.70" y="292.20" width="7.55" height="7.55" fill="#fddbc7"/>
<rect x="209.20" y="292.20" width="7.55" height="7.55" fill="#feede3"/>
<rect x="216.70" y="292.20" width="7.55" height="7.55" fill="#ffffff"/>
<rect x="224.20" y="292.20" width="7.55" height="7.55" fill="#ffffff"/>
<rect x="231.70" y="292.20" width="7.55" height="7.55" fill="#ffffff"/>
<rect x="239.20" y="292.20" width="7.55" height="7.55" fill="#92c5de"/>
<rect x="246.70" y="292.20" width="7.55" height="7.55" fill="#c1ddec"/>
<rect x="254.20" y="292.20" width="7.55" height="7.55" fill="#d1e5f0"/>
<rect x="261.70" y="292.20" width="7.55" height="7.55" fill="#dcecf4"/>
<rect x="269.20" y="292.20" width="7.55" height="7.55" fill="#92c5de"/>
<rect x="276.70" y="292.20" width="7.55" height="7.55" fill="#4393c3"/>
<rect x="284.20" y="292.20" width="7.55" height="7.55" fill="#2a71b2"/>
<rect x="291.70" y="292.20" width="7.55" height="7.55" fill="#2a71b2"/>
<rect x="299.20" y="292.20" width="7.55" height="7.55" fill="#2166ac"/>
<rect x="306.70" y="292.20" width="7.55" height="7.55" fill="#2a71b2"/>
<rect x="314.20" y="292.20" width="7.55" height="7.55" fill="#2166ac"/>
<rect x="321.70" y="292.20" width="7.55" height="7.55" fill="#134b86"/>
<rect x="329.20" y="292.20" width="7.55" height="7.55" fill="#134b86"/>
<rect x="336.70" y="292.20" width="7.55" height="7.55" fill="#0c3e74"/>
<rect x="344.20" y="292.20" width="7.55" height="7.55" fill="#053061"/>
<rect x="104.20" y="299.70" width="7.55" height="7.55" fill="#fef6f1"/>
<rect x="111.70" y="299.70" width="7.55" height="7.55" fill="#fee4d5"/>
<rect x="119.20" y="299.70" width="7.55" height="7.55" fill="#ffffff"/>
<rect x="126.70" y="299.70" width="7.55" height="7.55" fill="#ffffff"/>
<rect x="134.20" y="299.70" width="7.55" height="7.55" fill="#c1ddec"/>
<rect x="141.70" y="299.70" width="7.55" height="7.55" fill="#fee4d5"/>
<rect x="149.20" y="299.70" width="7.55" height="7.55" fill="#fee4d5"/>
<rect x="156.70" y="299.70" width="7.55" height="7.55" fill="#ffffff"/>
<rect x="164.20" y="299.70" width="7.55" height="7.55" fill="#f4f8fb"/>
<rect x="171.70" y="299.70" width="7.55" height="7.55" fill="#ffffff"/>
<rect x="179.20" y="299.70" width="7.55" height="7.55" fill="#f8c0a4"/>
<rect x="186.70" y="299.70" width="7.55" height="7.55" fill="#ffffff"/>
<rect x="194.20" y="299.70" width="7.55" height="7.55" fill="#d1e5f0"/>
<rect x="201.70" y="299.70" width="7.55" height="7.55" fill="#fef6f1"/>
<rect x="209.20" y="299.70" width="7.55" height="7.55" fill="#fef6f1"/>
<rect x="216.70" y="299.70" width="7.55" height="7.55" fill="#fef6f1"/>
<rect x="224.20" y="299.70" width="7.55" height="7.55" fill="#fef6f1"/>
<rect x="231.70" y="299.70" width="7.55" height="7.55" fill="#feede3"/>
<rect x="239.20" y="299.70" width="7.55" height="7.55" fill="#ffffff"/>
<rect x="246.70" y="299.70" width="7.55" height="7.55" fill="#e8f2f8"/>
<rect x="254.20" y="299.70" width="7.55" height="7.55" fill="#e8f2f8"/>
<rect x="261.70" y="299.70" width="7.55" height="7.55" fill="#ffffff"/>
<rect x="269.20" y="299.70" width="7.55" height="7.55" fill="#ffffff"/>
<rect x="276.70" y="299.70" width="7.55" height="7.55" fill="#d1e5f0"/>
<rect x="284.20" y="299.70" width="7.55" height="7.55" fill="#d1e5f0"/>
<rect x="291.70" y="299.70" width="7.55" height="7.55" fill="#c1ddec"/>
<rect x="299.20" y="299.70" width="7.55" height="7.55" fill="#e8f2f8"/>
<rect x="306.70" y="299.70" width="7.55" height="7.55" fill="#d1e5f0"/>
<rect x="314.20" y="299.70" width="7.55" height="7.55" fill="#d1e5f0"/>
<rect x="321.70" y="299.70" width="7.55" height="7.55" fill="#d1e5f0"/>
<rect x="329.20" y="299.70" width="7.55" height="7.55" fill="#dcecf4"/>
<rect x="336.70" y="299.70" width="7.55" height="7.55" fill="#dcecf4"/>
<rect x="344.20" y="299.70" width="7.55" height="7.55" fill="#dcecf4"/>
<rect x="351.70" y="299.70" width="7.55" height="7.55" fill="#053061"/>
<rect x="104.20" y="307.20" width="7.55" height="7.55" fill="#fddbc7"/>
<rect x="111.70" y="307.20" width="7.55" height="7.55" fill="#fddbc7"/>
<rect x="119.20" y="307.20" width="7.55" height="7.55" fill="#ffffff"/>
<rect x="126.70" y="307.20" width="7.55" height="7.55" fill="#fddbc7"/>
<rect x="134.20" y="307.20" width="7.55" height="7.55" fill="#dcecf4"/>
<rect x="141.70" y="307.20" width="7.55" height="7.55" fill="#fee4d5"/>
<rect x="149.20" y="307.20" width="7.55" height="7.55" fill="#feede3"/>
<rect x="156.70" y="307.20" width="7.55" height="7.55" fill="#e8f2f8"/>
<rect x="164.20" y="307.20" width="7.55" height="7.55" fill="#d1e5f0"/>
<rect x="171.70" y="307.20" width="7.55" height="7.55" fill="#feede3"/>
<rect x="179.20" y="307.20" width="7.55" height="7.55" fill="#fee4d5"/>
<rect x="186.70" y="307.20" width="7.55" height="7.55" fill="#ffffff"/>
<rect x="194.20" y="307.20" width="7.55" height="7.55" fill="#d1e5f0"/>
<rect x="201.70" y="307.20" width="7.55" height="7.55" fill="#ffffff"/>
<rect x="209.20" y="307.20" width="7.55" height="7.55" fill="#ffffff"/>
<rect x="216.70" y="307.20" width="7.55" height="7.55" fill="#ffffff"/>
<rect x="224.20" y="307.20" width="7.55" height="7.55" fill="#ffffff"/>
<rect x="231.70" y="307.20" width="7.55" height="7.55" fill="#ffffff"/>
<rect x="239.20" y="307.20" width="7.55" height="7.55" fill="#fef6f1"/>
<rect x="246.70" y="307.20" width="7.55" height="7.55" fill="#d1e5f0"/>
<rect x="254.20" y="307.20" width="7.55" height="7.55" fill="#d1e5f0"/>
<rect x="261.70" y="307.20" width="7.55" height="7.55" fill="#feede3"/>
<rect x="269.20" y="307.20" width="7.55" height="7.55" fill="#e8f2f8"/>
<rect x="276.70" y="307.20" width="7.55" height="7.55" fill="#b2d5e7"/>
<rect x="284.20" y="307.20" width="7.55" height="7.55" fill="#d1e5f0"/>
<rect x="291.70" y="307.20" width="7.55" height="7.55" fill="#c1ddec"/>
<rect x="299.20" y="307.20" width="7.55" height="7.55" fill="#e8f2f8"/>
<rect x="306.70" y="307.20" width="7.55" height="7.55" fill="#d1e5f0"/>
<rect x="314.20" y="307.20" width="7.55" height="7.55" fill="#d1e5f0"/>
<rect x="321.70" y="307.20" width="7.55" height="7.55" fill="#d1e5f0"/>
<rect x="329.20" y="307.20" width="7.55" height="7.55" fill="#dcecf4"/>
<rect x="336.70" y="307.20" width="7.55" height="7.55" fill="#dcecf4"/>
<rect x="344.20" y="307.20" width="7.55" height="7.55" fill="#e8f2f8"/>
<rect x="351.70" y="307.20" width="7.55" height="7.55" fill="#2a71b2"/>
<rect x="359.20" y="307.20" width="7.55" height="7.55" fill="#053061"/>
<rect x="104.20" y="314.70" width="7.55" height="7.55" fill="#feede3"/>
<rect x="111.70" y="314.70" width="7.55" height="7.55" fill="#ffffff"/>
<rect x="119.20" y="314.70" width="7.55" height="7.55" fill="#ffffff"/>
<rect x="126.70" y="314.70" width="7.55" height="7.55" fill="#fddbc7"/>
<rect x="134.20" y="314.70" width="7.55" height="7.55" fill="#fddbc7"/>
<rect x="141.70" y="314.70" width="7.55" height="7.55" fill="#ffffff"/>
<rect x="149.20" y="314.70" width="7.55" height="7.55" fill="#ffffff"/>
<rect x="156.70" y="314.70" width="7.55" height="7.55" fill="#fef6f1"/>
<rect x="164.20" y="314.70" width="7.55" height="7.55" fill="#ffffff"/>
<rect x="171.70" y="314.70" width="7.55" height="7.55" fill="#e8f2f8"/>
<rect x="179.20" y="314.70" width="7.55" height="7.55" fill="#e8f2f8"/>
<rect x="186.70" y="314.70" width="7.55" height="7.55" fill="#feede3"/>
<rect x="194.20" y="314.70" width="7.55" height="7.55" fill="#f4f8fb"/>
<rect x="201.70" y="314.70" width="7.55" height="7.55" fill="#e8f2f8"/>
<rect x="209.20" y="314.70" width="7.55" height="7.55" fill="#e8f2f8"/>
<rect x="216.70" y="314.70" width="7.55" height="7.55" fill="#e8f2f8"/>
<rect x="224.20" y="314.70" width="7.55" height="7.55" fill="#e8f2f8"/>
<rect x="231.70" y="314.70" width="7.55" height="7.55" fill="#e8f2f8"/>
<rect x="239.20" y="314.70" width="7.55" height="7.55" fill="#fef6f1"/>
<rect x="246.70" y="314.70" width="7.55" height="7.55" fill="#e8f2f8"/>
<rect x="254.20" y="314.70" width="7.55" height="7.55" fill="#92c5de"/>
<rect x="261.70" y="314.70" width="7.55" height="7.55" fill="#fef6f1"/>
<rect x="269.20" y="314.70" width="7.55" height="7.55" fill="#d1e5f0"/>
<rect x="276.70" y="314.70" width="7.55" height="7.55" fill="#a2cde2"/>
<rect x="284.20" y="314.70" width="7.55" height="7.55" fill="#b2d5e7"/>
<rect x="291.70" y="314.70" width="7.55" height="7.55" fill="#b2d5e7"/>
<rect x="299.20" y="314.70" width="7.55" height="7.55" fill="#a2cde2"/>
<rect x="306.70" y="314.70" width="7.55" height="7.55" fill="#b2d5e7"/>
<rect x="314.20" y="314.70" width="7.55" height="7.55" fill="#b2d5e7"/>
<rect x="321.70" y="314.70" width="7.55" height="7.55" fill="#b2d5e7"/>
<rect x="329.20" y="314.70" width="7.55" height="7.55" fill="#b2d5e7"/>
<rect x="336.70" y="314.70" width="7.55" height="7.55" fill="#b2d5e7"/>
<rect x="344.20" y="314.70" width="7.55" height="7.55" fill="#a2cde2"/>
<rect x="351.70" y="314.70" width="7.55" height="7.55" fill="#dcecf4"/>
<rect x="359.20" y="314.70" width="7.55" height="7.55" fill="#d1e5f0"/>
<rect x="366.70" y="314.70" width="7.55" height="7.55" fill="#053061"/>
<rect x="104.20" y="322.20" width="7.55" height="7.55" fill="#ffffff"/>
<rect x="111.70" y="322.20" width="7.55" height="7.55" fill="#fddbc7"/>
<rect x="119.20" y="322.20" width="7.55" height="7.55" fill="#f4f8fb"/>
<rect x="126.70" y="322.20" width="7.55" height="7.55" fill="#f4f8fb"/>
<rect x="134.20" y="322.20" width="7.55" height="7.55" fill="#fef6f1"/>
<rect x="141.70" y="322.20" width="7.55" height="7.55" fill="#f4f8fb"/>
<rect x="149.20" y="322.20" width="7.55" height="7.55" fill="#fddbc7"/>
<rect x="156.70" y="322.20" width="7.55" height="7.55" fill="#f4f8fb"/>
<rect x="164.20" y="322.20" width="7.55" height="7.55" fill="#f4f8fb"/>
<rect x="171.70" y="322.20" width="7.55" height="7.55" fill="#ffffff"/>
<rect x="179.20" y="322.20" width="7.55" height="7.55" fill="#f4f8fb"/>
<rect x="186.70" y="322.20" width="7.55" height="7.55" fill="#feede3"/>
<rect x="194.20" y="322.20" width="7.55" height="7.55" fill="#e8f2f8"/>
<rect x="201.70" y="322.20" width="7.55" height="7.55" fill="#dcecf4"/>
<rect x="209.20" y="322.20" width="7.55" height="7.55" fill="#ffffff"/>
<rect x="216.70" y="322.20" width="7.55" height="7.55" fill="#f4f8fb"/>
<rect x="224.20" y="322.20" width="7.55" height="7.55" fill="#f4f8fb"/>
<rect x="231.70" y="322.20" width="7.55" height="7.55" fill="#f4f8fb"/>
<rect x="239.20" y="322.20" width="7.55" height="7.55" fill="#feede3"/>
<rect x="246.70" y="322.20" width="7.55" height="7.55" fill="#f4f8fb"/>
<rect x="254.20" y="322.20" width="7.55" height="7.55" fill="#92c5de"/>
<rect x="261.70" y="322.20" width="7.55" height="7.55" fill="#f4f8fb"/>
<rect x="269.20" y="322.20" width="7.55" height="7.55" fill="#dcecf4"/>
<rect x="276.70" y="322.20" width="7.55" height="7.55" fill="#d1e5f0"/>
<rect x="284.20" y="322.20" width="7.55" height="7.55" fill="#c1ddec"/>
<rect x="291.70" y="322.20" width="7.55" height="7.55" fill="#c1ddec"/>
<rect x="299.20" y="322.20" width="7.55" height="7.55" fill="#ffffff"/>
<rect x="306.70" y="322.20" width="7.55" height="7.55" fill="#a2cde2"/>
<rect x="314.20" y="322.20" width="7.55" height="7.55" fill="#c1ddec"/>
<rect x="321.70" y="322.20" width="7.55" height="7.55" fill="#f4f8fb"/>
<rect x="329.20" y="322.20" width="7.55" height="7.55" fill="#f4f8fb"/>
<rect x="336.70" y="322.20" width="7.55" height="7.55" fill="#ffffff"/>
<rect x="344.20" y="322.20" width="7.55" height="7.55" fill="#f4f8fb"/>
<rect x="351.70" y="322.20" width="7.55" height="7.55" fill="#c1ddec"/>
<rect x="359.20" y="322.20" width="7.55" height="7.55" fill="#a2cde2"/>
<rect x="366.70" y="322.20" width="7.55" height="7.55" fill="#7eb8d7"/>
<rect x="374.20" y="322.20" width="7.55" height="7.55" fill="#053061"/>
<rect x="104.20" y="329.70" width="7.55" height="7.55" fill="#ffffff"/>
<rect x="111.70" y="329.70" width="7.55" height="7.55" fill="#fee4d5"/>
<rect x="119.20" y="329.70" width="7.55" height="7.55" fill="#e8f2f8"/>
<rect x="126.70" y="329.70" width="7.55" height="7.55" fill="#e8f2f8"/>
<rect x="134.20" y="329.70" width="7.55" height="7.55" fill="#fbceb6"/>
<rect x="141.70" y="329.70" width="7.55" height="7.55" fill="#b2d5e7"/>
<rect x="149.20" y="329.70" width="7.55" height="7.55" fill="#ffffff"/>
<rect x="156.70" y="329.70" width="7.55" height="7.55" fill="#e8f2f8"/>
<rect x="164.20" y="329.70" width="7.55" height="7.55" fill="#fddbc7"/>
<rect x="171.70" y="329.70" width="7.55" height="7.55" fill="#e8f2f8"/>
<rect x="179.20" y="329.70" width="7.55" height="7.55" fill="#ffffff"/>
<rect x="186.70" y="329.70" width="7.55" height="7.55" fill="#fee4d5"/>
<rect x="194.20" y="329.70" width="7.55" height="7.55" fill="#feede3"/>
<rect x="201.70" y="329.70" width="7.55" height="7.55" fill="#ffffff"/>
<rect x="209.20" y="329.70" width="7.55" height="7.55" fill="#feede3"/>
<rect x="216.70" y="329.70" width="7.55" height="7.55" fill="#fee4d5"/>
<rect x="224.20" y="329.70" width="7.55" height="7.55" fill="#feede3"/>
<rect x="231.70" y="329.70" width="7.55" height="7.55" fill="#feede3"/>
<rect x="239.20" y="329.70" width="7.55" height="7.55" fill="#ffffff"/>
<rect x="246.70" y="329.70" width="7.55" height="7.55" fill="#f4f8fb"/>
<rect x="254.20" y="329.70" width="7.55" height="7.55" fill="#d1e5f0"/>
<rect x="261.70" y="329.70" width="7.55" height="7.55" fill="#feede3"/>
<rect x="269.20" y="329.70" width="7.55" height="7.55" fill="#d1e5f0"/>
<rect x="276.70" y="329.70" width="7.55" height="7.55" fill="#b2d5e7"/>
<rect x="284.20" y="329.70" width="7.55" height="7.55" fill="#d1e5f0"/>
<rect x="291.70" y="329.70" width="7.55" height="7.55" fill="#dcecf4"/>
<rect x="299.20" y="329.70" width="7.55" height="7.55" fill="#dcecf4"/>
<rect x="306.70" y="329.70" width="7.55" height="7.55" fill="#b2d5e7"/>
<rect x="314.20" y="329.70" width="7.55" height="7.55" fill="#c1ddec"/>
<rect x="321.70" y="329.70" width="7.55" height="7.55" fill="#d1e5f0"/>
<rect x="329.20" y="329.70" width="7.55" height="7.55" fill="#e8f2f8"/>
<rect x="336.70" y="329.70" width="7.55" height="7.55" fill="#e8f2f8"/>
<rect x="344.20" y="329.70" width="7.55" height="7.55" fill="#e8f2f8"/>
<rect x="351.70" y="329.70" width="7.55" height="7.55" fill="#ffffff"/>
<rect x="359.20" y="329.70" width="7.55" height="7.55" fill="#f4f8fb"/>
<rect x="366.70" y="329.70" width="7.55" height="7.55" fill="#92c5de"/>
<rect x="374.20" y="329.70" width="7.55" height="7.55" fill="#6aacd0"/>
<rect x="381.70" y="329.70" width="7.55" height="7.55" fill="#053061"/>
<rect x="104.20" y="337.20" width="7.55" height="7.55" fill="#f4f8fb"/>
<rect x="111.70" y="337.20" width="7.55" height="7.55" fill="#fef6f1"/>
<rect x="119.20" y="337.20" width="7.55" height="7.55" fill="#e8f2f8"/>
<rect x="126.70" y="337.20" width="7.55" height="7.55" fill="#f4f8fb"/>
<rect x="134.20" y="337.20" width="7.55" height="7.55" fill="#fddbc7"/>
<rect x="141.70" y="337.20" width="7.55" height="7.55" fill="#ffffff"/>
<rect x="149.20" y="337.20" width="7.55" height="7.55" fill="#fbceb6"/>
<rect x="156.70" y="337.20" width="7.55" height="7.55" fill="#f4f8fb"/>
<rect x="164.20" y="337.20" width="7.55" height="7.55" fill="#fee4d5"/>
<rect x="171.70" y="337.20" width="7.55" height="7.55" fill="#ffffff"/>
<rect x="179.20" y="337.20" width="7.55" height="7.55" fill="#f4f8fb"/>
<rect x="186.70" y="337.20" width="7.55" height="7.55" fill="#ffffff"/>
<rect x="194.20" y="337.20" width="7.55" height="7.55" fill="#e8f2f8"/>
<rect x="201.70" y="337.20" width="7.55" height="7.55" fill="#c1ddec"/>
<rect x="209.20" y="337.20" width="7.55" height="7.55" fill="#dcecf4"/>
<rect x="216.70" y="337.20" width="7.55" height="7.55" fill="#ffffff"/>
<rect x="224.20" y="337.20" width="7.55" height="7.55" fill="#dcecf4"/>
<rect x="231.70" y="337.20" width="7.55" height="7.55" fill="#dcecf4"/>
<rect x="239.20" y="337.20" width="7.55" height="7.55" fill="#feede3"/>
<rect x="246.70" y="337.20" width="7.55" height="7.55" fill="#feede3"/>
<rect x="254.20" y="337.20" width="7.55" height="7.55" fill="#feede3"/>
<rect x="261.70" y="337.20" width="7.55" height="7.55" fill="#f6b293"/>
<rect x="269.20" y="337.20" width="7.55" height="7.55" fill="#ffffff"/>
<rect x="276.70" y="337.20" width="7.55" height="7.55" fill="#e8f2f8"/>
<rect x="284.20" y="337.20" width="7.55" height="7.55" fill="#ffffff"/>
<rect x="291.70" y="337.20" width="7.55" height="7.55" fill="#f4f8fb"/>
<rect x="299.20" y="337.20" width="7.55" height="7.55" fill="#ffffff"/>
<rect x="306.70" y="337.20" width="7.55" height="7.55" fill="#feede3"/>
<rect x="314.20" y="337.20" width="7.55" height="7.55" fill="#feede3"/>
<rect x="321.70" y="337.20" width="7.55" height="7.55" fill="#fee4d5"/>
<rect x="329.20" y="337.20" width="7.55" height="7.55" fill="#feede3"/>
<rect x="336.70" y="337.20" width="7.55" height="7.55" fill="#fbceb6"/>
<rect x="344.20" y="337.20" width="7.55" height="7.55" fill="#fee4d5"/>
<rect x="351.70" y="337.20" width="7.55" height="7.55" fill="#ffffff"/>
<rect x="359.20" y="337.20" width="7.55" height="7.55" fill="#f4f8fb"/>
<rect x="366.70" y="337.20" width="7.55" height="7.55" fill="#a2cde2"/>
<rect x="374.20" y="337.20" width="7.55" height="7.55" fill="#d1e5f0"/>
<rect x="381.70" y="337.20" width="7.55" height="7.55" fill="#d1e5f0"/>
<rect x="389.20" y="337.20" width="7.55" height="7.55" fill="#053061"/>
<rect x="104.20" y="344.70" width="7.55" height="7.55" fill="#fee4d5"/>
<rect x="111.70" y="344.70" width="7.55" height="7.55" fill="#fee4d5"/>
<rect x="119.20" y="344.70" width="7.55" height="7.55" fill="#fee4d5"/>
<rect x="126.70" y="344.70" width="7.55" height="7.55" fill="#fef6f1"/>
<rect x="134.20" y="344.70" width="7.55" height="7.55" fill="#f4f8fb"/>
<rect x="141.70" y="344.70" width="7.55" height="7.55" fill="#f8c0a4"/>
<rect x="149.20" y="344.70" width="7.55" height="7.55" fill="#fee4d5"/>
<rect x="156.70" y="344.70" width="7.55" height="7.55" fill="#f4f8fb"/>
<rect x="164.20" y="344.70" width="7.55" height="7.55" fill="#e8f2f8"/>
<rect x="171.70" y="344.70" width="7.55" height="7.55" fill="#feede3"/>
<rect x="179.20" y="344.70" width="7.55" height="7.55" fill="#f4f8fb"/>
<rect x="186.70" y="344.70" width="7.55" height="7.55" fill="#fef6f1"/>
<rect x="194.20" y="344.70" width="7.55" height="7.55" fill="#e8f2f8"/>
<rect x="201.70" y="344.70" width="7.55" height="7.55" fill="#e8f2f8"/>
<rect x="209.20" y="344.70" width="7.55" height="7.55" fill="#ffffff"/>
<rect x="216.70" y="344.70" width="7.55" height="7.55" fill="#f4f8fb"/>
<rect x="224.20" y="344.70" width="7.55" height="7.55" fill="#e8f2f8"/>
<rect x="231.70" y="344.70" width="7.55" height="7.55" fill="#e8f2f8"/>
<rect x="239.20" y="344.70" width="7.55" height="7.55" fill="#ffffff"/>
<rect x="246.70" y="344.70" width="7.55" height="7.55" fill="#d1e5f0"/>
<rect x="254.20" y="344.70" width="7.55" height="7.55" fill="#fbceb6"/>
<rect x="261.70" y="344.70" width="7.55" height="7.55" fill="#fbceb6"/>
<rect x="269.20" y="344.70" width="7.55" height="7.55" fill="#e8f2f8"/>
<rect x="276.70" y="344.70" width="7.55" height="7.55" fill="#e8f2f8"/>
<rect x="284.20" y="344.70" width="7.55" height="7.55" fill="#b2d5e7"/>
<rect x="291.70" y="344.70" width="7.55" height="7.55" fill="#4393c3"/>
<rect x="299.20" y="344.70" width="7.55" height="7.55" fill="#dcecf4"/>
<rect x="306.70" y="344.70" width="7.55" height="7.55" fill="#f4f8fb"/>
<rect x="314.20" y="344.70" width="7.55" height="7.55" fill="#f4f8fb"/>
<rect x="321.70" y="344.70" width="7.55" height="7.55" fill="#e8f2f8"/>
<rect x="329.20" y="344.70" width="7.55" height="7.55" fill="#c1ddec"/>
<rect x="336.70" y="344.70" width="7.55" height="7.55" fill="#dcecf4"/>
<rect x="344.20" y="344.70" width="7.55" height="7.55" fill="#e8f2f8"/>
<rect x="351.70" y="344.70" width="7.55" height="7.55" fill="#e8f2f8"/>
<rect x="359.20" y="344.70" width="7.55" height="7.55" fill="#d1e5f0"/>
<rect x="366.70" y="344.70" width="7.55" height="7.55" fill="#c1ddec"/>
<rect x="374.20" y="344.70" width="7.55" height="7.55" fill="#d1e5f0"/>
<rect x="381.70" y="344.70" width="7.55" height="7.55" fill="#ffffff"/>
<rect x="389.20" y="344.70" width="7.55" height="7.55" fill="#c1ddec"/>
<rect x="396.70" y="344.70" width="7.55" height="7.55" fill="#053061"/>
<rect x="104.20" y="352.20" width="7.55" height="7.55" fill="#ffffff"/>
<rect x="111.70" y="352.20" width="7.55" height="7.55" fill="#fee4d5"/>
<rect x="119.20" y="352.20" width="7.55" height="7.55" fill="#f4f8fb"/>
<rect x="126.70" y="352.20" width="7.55" height="7.55" fill="#f4f8fb"/>
<rect x="134.20" y="352.20" width="7.55" height="7.55" fill="#feede3"/>
<rect x="141.70" y="352.20" width="7.55" height="7.55" fill="#f4a582"/>
<rect x="149.20" y="352.20" width="7.55" height="7.55" fill="#e58268"/>
<rect x="156.70" y="352.20" width="7.55" height="7.55" fill="#fee4d5"/>
<rect x="164.20" y="352.20" width="7.55" height="7.55" fill="#ffffff"/>
<rect x="171.70" y="352.20" width="7.55" height="7.55" fill="#fddbc7"/>
<rect x="179.20" y="352.20" width="7.55" height="7.55" fill="#fef6f1"/>
<rect x="186.70" y="352.20" width="7.55" height="7.55" fill="#e8f2f8"/>
<rect x="194.20" y="352.20" width="7.55" height="7.55" fill="#e8f2f8"/>
<rect x="201.70" y="352.20" width="7.55" height="7.55" fill="#c1ddec"/>
<rect x="209.20" y="352.20" width="7.55" height="7.55" fill="#e8f2f8"/>
<rect x="216.70" y="352.20" width="7.55" height="7.55" fill="#e8f2f8"/>
<rect x="224.20" y="352.20" width="7.55" height="7.55" fill="#e8f2f8"/>
<rect x="231.70" y="352.20" width="7.55" height="7.55" fill="#e8f2f8"/>
<rect x="239.20" y="352.20" width="7.55" height="7.55" fill="#fef6f1"/>
<rect x="246.70" y="352.20" width="7.55" height="7.55" fill="#fef6f1"/>
<rect x="254.20" y="352.20" width="7.55" height="7.55" fill="#d6604d"/>
<rect x="261.70" y="352.20" width="7.55" height="7.55" fill="#b2182b"/>
<rect x="269.20" y="352.20" width="7.55" height="7.55" fill="#ffffff"/>
<rect x="276.70" y="352.20" width="7.55" height="7.55" fill="#feede3"/>
<rect x="284.20" y="352.20" width="7.55" height="7.55" fill="#feede3"/>
<rect x="291.70" y="352.20" width="7.55" height="7.55" fill="#feede3"/>
<rect x="299.20" y="352.20" width="7.55" height="7.55" fill="#e8f2f8"/>
<rect x="306.70" y="352.20" width="7.55" height="7.55" fill="#fef6f1"/>
<rect x="314.20" y="352.20" width="7.55" height="7.55" fill="#fddbc7"/>
<rect x="321.70" y="352.20" width="7.55" height="7.55" fill="#fddbc7"/>
<rect x="329.20" y="352.20" width="7.55" height="7.55" fill="#fddbc7"/>
<rect x="336.70" y="352.20" width="7.55" height="7.55" fill="#fbceb6"/>
<rect x="344.20" y="352.20" width="7.55" height="7.55" fill="#fee4d5"/>
<rect x="351.70" y="352.20" width="7.55" height="7.55" fill="#ffffff"/>
<rect x="359.20" y="352.20" width="7.55" height="7.55" fill="#e8f2f8"/>
<rect x="366.70" y="352.20" width="7.55" height="7.55" fill="#e8f2f8"/>
<rect x="374.20" y="352.20" width="7.55" height="7.55" fill="#e8f2f8"/>
<rect x="381.70" y="352.20" width="7.55" height="7.55" fill="#f4f8fb"/>
<rect x="389.20" y="352.20" width="7.55" height="7.55" fill="#6aacd0"/>
<rect x="396.70" y="352.20" width="7.55" height="7.55" fill="#4393c3"/>
<rect x="404.20" y="352.20" width="7.55" height="7.55" fill="#053061"/>
<rect x="104.20" y="359.70" width="7.55" height="7.55" fill="#feede3"/>
<rect x="111.70" y="359.70" width="7.55" height="7.55" fill="#feede3"/>
<rect x="119.20" y="359.70" width="7.55" height="7.55" fill="#fddbc7"/>
<rect x="126.70" y="359.70" width="7.55" height="7.55" fill="#e8f2f8"/>
<rect x="134.20" y="359.70" width="7.55" height="7.55" fill="#f4f8fb"/>
<rect x="141.70" y="359.70" width="7.55" height="7.55" fill="#fef6f1"/>
<rect x="149.20" y="359.70" width="7.55" height="7.55" fill="#fee4d5"/>
<rect x="156.70" y="359.70" width="7.55" height="7.55" fill="#e8f2f8"/>
<rect x="164.20" y="359.70" width="7.55" height="7.55" fill="#ffffff"/>
<rect x="171.70" y="359.70" width="7.55" height="7.55" fill="#e8f2f8"/>
<rect x="179.20" y="359.70" width="7.55" height="7.55" fill="#e8f2f8"/>
<rect x="186.70" y="359.70" width="7.55" height="7.55" fill="#f4f8fb"/>
<rect x="194.20" y="359.70" width="7.55" height="7.55" fill="#f4f8fb"/>
<rect x="201.70" y="359.70" width="7.55" height="7.55" fill="#d1e5f0"/>
<rect x="209.20" y="359.70" width="7.55" height="7.55" fill="#f4f8fb"/>
<rect x="216.70" y="359.70" width="7.55" height="7.55" fill="#f4f8fb"/>
<rect x="224.20" y="359.70" width="7.55" height="7.55" fill="#f4f8fb"/>
<rect x="231.70" y="359.70" width="7.55" height="7.55" fill="#f4f8fb"/>
<rect x="239.20" y="359.70" width="7.55" height="7.55" fill="#fef6f1"/>
<rect x="246.70" y="359.70" width="7.55" height="7.55" fill="#fef6f1"/>
<rect x="254.20" y="359.70" width="7.55" height="7.55" fill="#e8f2f8"/>
<rect x="261.70" y="359.70" width="7.55" height="7.55" fill="#ffffff"/>
<rect x="269.20" y="359.70" width="7.55" height="7.55" fill="#fee4d5"/>
<rect x="276.70" y="359.70" width="7.55" height="7.55" fill="#fee4d5"/>
<rect x="284.20" y="359.70" width="7.55" height="7.55" fill="#ffffff"/>
<rect x="291.70" y="359.70" width="7.55" height="7.55" fill="#dcecf4"/>
<rect x="299.20" y="359.70" width="7.55" height="7.55" fill="#fef6f1"/>
<rect x="306.70" y="359.70" width="7.55" height="7.55" fill="#fef6f1"/>
<rect x="314.20" y="359.70" width="7.55" height="7.55" fill="#fef6f1"/>
<rect x="321.70" y="359.70" width="7.55" height="7.55" fill="#ffffff"/>
<rect x="329.20" y="359.70" width="7.55" height="7.55" fill="#fef6f1"/>
<rect x="336.70" y="359.70" width="7.55" height="7.55" fill="#feede3"/>
<rect x="344.20" y="359.70" width="7.55" height="7.55" fill="#fef6f1"/>
<rect x="351.70" y="359.70" width="7.55" height="7.55" fill="#dcecf4"/>
<rect x="359.20" y="359.70" width="7.55" height="7.55" fill="#dcecf4"/>
<rect x="366.70" y="359.70" width="7.55" height="7.55" fill="#b2d5e7"/>
<rect x="374.20" y="359.70" width="7.55" height="7.55" fill="#a2cde2"/>
<rect x="381.70" y="359.70" width="7.55" height="7.55" fill="#ffffff"/>
<rect x="389.20" y="359.70" width="7.55" height="7.55" fill="#b2d5e7"/>
<rect x="396.70" y="359.70" width="7.55" height="7.55" fill="#b2d5e7"/>
<rect x="404.20" y="359.70" width="7.55" height="7.55" fill="#b2d5e7"/>
<rect x="411.70" y="359.70" width="7.55" height="7.55" fill="#053061"/>
<rect x="104.20" y="367.20" width="7.55" height="7.55" fill="#fef6f1"/>
<rect x="111.70" y="367.20" width="7.55" height="7.55" fill="#fbceb6"/>
<rect x="119.20" y="367.20" width="7.55" height="7.55" fill="#fef6f1"/>
<rect x="126.70" y="367.20" width="7.55" height="7.55" fill="#e8f2f8"/>
<rect x="134.20" y="367.20" width="7.55" height="7.55" fill="#ffffff"/>
<rect x="141.70" y="367.20" width="7.55" height="7.55" fill="#f8c0a4"/>
<rect x="149.20" y="367.20" width="7.55" height="7.55" fill="#ec9475"/>
<rect x="156.70" y="367.20" width="7.55" height="7.55" fill="#ffffff"/>
<rect x="164.20" y="367.20" width="7.55" height="7.55" fill="#ffffff"/>
<rect x="171.70" y="367.20" width="7.55" height="7.55" fill="#fef6f1"/>
<rect x="179.20" y="367.20" width="7.55" height="7.55" fill="#ffffff"/>
<rect x="186.70" y="367.20" width="7.55" height="7.55" fill="#f4f8fb"/>
<rect x="194.20" y="367.20" width="7.55" height="7.55" fill="#e8f2f8"/>
<rect x="201.70" y="367.20" width="7.55" height="7.55" fill="#a2cde2"/>
<rect x="209.20" y="367.20" width="7.55" height="7.55" fill="#dcecf4"/>
<rect x="216.70" y="367.20" width="7.55" height="7.55" fill="#dcecf4"/>
<rect x="224.20" y="367.20" width="7.55" height="7.55" fill="#dcecf4"/>
<rect x="231.70" y="367.20" width="7.55" height="7.55" fill="#dcecf4"/>
<rect x="239.20" y="367.20" width="7.55" height="7.55" fill="#ffffff"/>
<rect x="246.70" y="367.20" width="7.55" height="7.55" fill="#fef6f1"/>
<rect x="254.20" y="367.20" width="7.55" height="7.55" fill="#fef6f1"/>
<rect x="261.70" y="367.20" width="7.55" height="7.55" fill="#e58268"/>
<rect x="269.20" y="367.20" width="7.55" height="7.55" fill="#ffffff"/>
<rect x="276.70" y="367.20" width="7.55" height="7.55" fill="#ffffff"/>
<rect x="284.20" y="367.20" width="7.55" height="7.55" fill="#f4f8fb"/>
<rect x="291.70" y="367.20" width="7.55" height="7.55" fill="#d1e5f0"/>
<rect x="299.20" y="367.20" width="7.55" height="7.55" fill="#fef6f1"/>
<rect x="306.70" y="367.20" width="7.55" height="7.55" fill="#fef6f1"/>
<rect x="314.20" y="367.20" width="7.55" height="7.55" fill="#fef6f1"/>
<rect x="321.70" y="367.20" width="7.55" height="7.55" fill="#feede3"/>
<rect x="329.20" y="367.20" width="7.55" height="7.55" fill="#feede3"/>
<rect x="336.70" y="367.20" width="7.55" height="7.55" fill="#fddbc7"/>
<rect x="344.20" y="367.20" width="7.55" height="7.55" fill="#fee4d5"/>
<rect x="351.70" y="367.20" width="7.55" height="7.55" fill="#dcecf4"/>
<rect x="359.20" y="367.20" width="7.55" height="7.55" fill="#d1e5f0"/>
<rect x="366.70" y="367.20" width="7.55" height="7.55" fill="#a2cde2"/>
<rect x="374.20" y="367.20" width="7.55" height="7.55" fill="#92c5de"/>
<rect x="381.70" y="367.20" width="7.55" height="7.55" fill="#e8f2f8"/>
<rect x="389.20" y="367.20" width="7.55" height="7.55" fill="#3a88bd"/>
<rect x="396.70" y="367.20" width="7.55" height="7.55" fill="#3a88bd"/>
<rect x="404.20" y="367.20" width="7.55" height="7.55" fill="#327cb8"/>
<rect x="411.70" y="367.20" width="7.55" height="7.55" fill="#327cb8"/>
<rect x="419.20" y="367.20" width="7.55" height="7.55" fill="#053061"/>
<rect x="104.20" y="374.70" width="7.55" height="7.55" fill="#e8f2f8"/>
<rect x="111.70" y="374.70" width="7.55" height="7.55" fill="#ffffff"/>
<rect x="119.20" y="374.70" width="7.55" height="7.55" fill="#ffffff"/>
<rect x="126.70" y="374.70" width="7.55" height="7.55" fill="#ffffff"/>
<rect x="134.20" y="374.70" width="7.55" height="7.55" fill="#ffffff"/>
<rect x="141.70" y="374.70" width="7.55" height="7.55" fill="#d1e5f0"/>
<rect x="149.20" y="374.70" width="7.55" height="7.55" fill="#ffffff"/>
<rect x="156.70" y="374.70" width="7.55" height="7.55" fill="#e8f2f8"/>
<rect x="164.20" y="374.70" width="7.55" height="7.55" fill="#feede3"/>
<rect x="171.70" y="374.70" width="7.55" height="7.55" fill="#b2d5e7"/>
<rect x="179.20" y="374.70" width="7.55" height="7.55" fill="#e8f2f8"/>
<rect x="186.70" y="374.70" width="7.55" height="7.55" fill="#feede3"/>
<rect x="194.20" y="374.70" width="7.55" height="7.55" fill="#ffffff"/>
<rect x="201.70" y="374.70" width="7.55" height="7.55" fill="#fef6f1"/>
<rect x="209.20" y="374.70" width="7.55" height="7.55" fill="#e8f2f8"/>
<rect x="216.70" y="374.70" width="7.55" height="7.55" fill="#fef6f1"/>
<rect x="224.20" y="374.70" width="7.55" height="7.55" fill="#fef6f1"/>
<rect x="231.70" y="374.70" width="7.55" height="7.55" fill="#fef6f1"/>
<rect x="239.20" y="374.70" width="7.55" height="7.55" fill="#e8f2f8"/>
<rect x="246.70" y="374.70" width="7.55" height="7.55" fill="#fef6f1"/>
<rect x="254.20" y="374.70" width="7.55" height="7.55" fill="#c1ddec"/>
<rect x="261.70" y="374.70" width="7.55" height="7.55" fill="#dcecf4"/>
<rect x="269.20" y="374.70" width="7.55" height="7.55" fill="#ffffff"/>
<rect x="276.70" y="374.70" width="7.55" height="7.55" fill="#c1ddec"/>
<rect x="284.20" y="374.70" width="7.55" height="7.55" fill="#ffffff"/>
<rect x="291.70" y="374.70" width="7.55" height="7.55" fill="#ffffff"/>
<rect x="299.20" y="374.70" width="7.55" height="7.55" fill="#ffffff"/>
<rect x="306.70" y="374.70" width="7.55" height="7.55" fill="#f4f8fb"/>
<rect x="314.20" y="374.70" width="7.55" height="7.55" fill="#f4f8fb"/>
<rect x="321.70" y="374.70" width="7.55" height="7.55" fill="#ffffff"/>
<rect x="329.20" y="374.70" width="7.55" height="7.55" fill="#fef6f1"/>
<rect x="336.70" y="374.70" width="7.55" height="7.55" fill="#ffffff"/>
<rect x="344.20" y="374.70" width="7.55" height="7.55" fill="#ffffff"/>
<rect x="351.70" y="374.70" width="7.55" height="7.55" fill="#ffffff"/>
<rect x="359.20" y="374.70" width="7.55" height="7.55" fill="#fef6f1"/>
<rect x="366.70" y="374.70" width="7.55" height="7.55" fill="#b2d5e7"/>
<rect x="374.20" y="374.70" width="7.55" height="7.55" fill="#c1ddec"/>
<rect x="381.70" y="374.70" width="7.55" height="7.55" fill="#c1ddec"/>
<rect x="389.20" y="374.70" width="7.55" height="7.55" fill="#e8f2f8"/>
<rect x="396.70" y="374.70" width="7.55" height="7.55" fill="#feede3"/>
<rect x="404.20" y="374.70" width="7.55" height="7.55" fill="#fee4d5"/>
<rect x="411.70" y="374.70" width="7.55" height="7.55" fill="#e8f2f8"/>
<rect x="419.20" y="374.70" width="7.55" height="7.55" fill="#f4f8fb"/>
<rect x="426.70" y="374.70" width="7.55" height="7.55" fill="#053061"/>
<rect x="104.20" y="382.20" width="7.55" height="7.55" fill="#ffffff"/>
<rect x="111.70" y="382.20" width="7.55" height="7.55" fill="#fef6f1"/>
<rect x="119.20" y="382.20" width="7.55" height="7.55" fill="#f4f8fb"/>
<rect x="126.70" y="382.20" width="7.55" height="7.55" fill="#fddbc7"/>
<rect x="134.20" y="382.20" width="7.55" height="7.55" fill="#feede3"/>
<rect x="141.70" y="382.20" width="7.55" height="7.55" fill="#d1e5f0"/>
<rect x="149.20" y="382.20" width="7.55" height="7.55" fill="#ffffff"/>
<rect x="156.70" y="382.20" width="7.55" height="7.55" fill="#c1ddec"/>
<rect x="164.20" y="382.20" width="7.55" height="7.55" fill="#ffffff"/>
<rect x="171.70" y="382.20" width="7.55" height="7.55" fill="#e8f2f8"/>
<rect x="179.20" y="382.20" width="7.55" height="7.55" fill="#e8f2f8"/>
<rect x="186.70" y="382.20" width="7.55" height="7.55" fill="#feede3"/>
<rect x="194.20" y="382.20" width="7.55" height="7.55" fill="#f4f8fb"/>
<rect x="201.70" y="382.20" width="7.55" height="7.55" fill="#feede3"/>
<rect x="209.20" y="382.20" width="7.55" height="7.55" fill="#e8f2f8"/>
<rect x="216.70" y="382.20" width="7.55" height="7.55" fill="#fef6f1"/>
<rect x="224.20" y="382.20" width="7.55" height="7.55" fill="#fef6f1"/>
<rect x="231.70" y="382.20" width="7.55" height="7.55" fill="#fef6f1"/>
<rect x="239.20" y="382.20" width="7.55" height="7.55" fill="#f4f8fb"/>
<rect x="246.70" y="382.20" width="7.55" height="7.55" fill="#c1ddec"/>
<rect x="254.20" y="382.20" width="7.55" height="7.55" fill="#d1e5f0"/>
<rect x="261.70" y="382.20" width="7.55" height="7.55" fill="#dcecf4"/>
<rect x="269.20" y="382.20" width="7.55" height="7.55" fill="#ffffff"/>
<rect x="276.70" y="382.20" width="7.55" height="7.55" fill="#a2cde2"/>
<rect x="284.20" y="382.20" width="7.55" height="7.55" fill="#e8f2f8"/>
<rect x="291.70" y="382.20" width="7.55" height="7.55" fill="#e8f2f8"/>
<rect x="299.20" y="382.20" width="7.55" height="7.55" fill="#b2d5e7"/>
<rect x="306.70" y="382.20" width="7.55" height="7.55" fill="#e8f2f8"/>
<rect x="314.20" y="382.20" width="7.55" height="7.55" fill="#e8f2f8"/>
<rect x="321.70" y="382.20" width="7.55" height="7.55" fill="#e8f2f8"/>
<rect x="329.20" y="382.20" width="7.55" height="7.55" fill="#f4f8fb"/>
<rect x="336.70" y="382.20" width="7.55" height="7.55" fill="#ffffff"/>
<rect x="344.20" y="382.20" width="7.55" height="7.55" fill="#e8f2f8"/>
<rect x="351.70" y="382.20" width="7.55" height="7.55" fill="#e8f2f8"/>
<rect x="359.20" y="382.20" width="7.55" height="7.55" fill="#d1e5f0"/>
<rect x="366.70" y="382.20" width="7.55" height="7.55" fill="#a2cde2"/>
<rect x="374.20" y="382.20" width="7.55" height="7.55" fill="#e8f2f8"/>
<rect x="381.70" y="382.20" width="7.55" height="7.55" fill="#c1ddec"/>
<rect x="389.20" y="382.20" width="7.55" height="7.55" fill="#e8f2f8"/>
<rect x="396.70" y="382.20" width="7.55" height="7.55" fill="#e8f2f8"/>
<rect x="404.20" y="382.20" width="7.55" height="7.55" fill="#ffffff"/>
<rect x="411.70" y="382.20" width="7.55" height="7.55" fill="#feede3"/>
<rect x="419.20" y="382.20" width="7.55" height="7.55" fill="#ffffff"/>
<rect x="426.70" y="382.20" width="7.55" height="7.55" fill="#57a0ca"/>
<rect x="434.20" y="382.20" width="7.55" height="7.55" fill="#053061"/>
<rect x="104.20" y="389.70" width="7.55" height="7.55" fill="#fee4d5"/>
<rect x="111.70" y="389.70" width="7.55" height="7.55" fill="#ffffff"/>
<rect x="119.20" y="389.70" width="7.55" height="7.55" fill="#ffffff"/>
<rect x="126.70" y="389.70" width="7.55" height="7.55" fill="#f6b293"/>
<rect x="134.20" y="389.70" width="7.55" height="7.55" fill="#d1e5f0"/>
<rect x="141.70" y="389.70" width="7.55" height="7.55" fill="#ffffff"/>
<rect x="149.20" y="389.70" width="7.55" height="7.55" fill="#e8f2f8"/>
<rect x="156.70" y="389.70" width="7.55" height="7.55" fill="#c1ddec"/>
<rect x="164.20" y="389.70" width="7.55" height="7.55" fill="#feede3"/>
<rect x="171.70" y="389.70" width="7.55" height="7.55" fill="#ffffff"/>
<rect x="179.20" y="389.70" width="7.55" height="7.55" fill="#d1e5f0"/>
<rect x="186.70" y="389.70" width="7.55" height="7.55" fill="#ffffff"/>
<rect x="194.20" y="389.70" width="7.55" height="7.55" fill="#fee4d5"/>
<rect x="201.70" y="389.70" width="7.55" height="7.55" fill="#ffffff"/>
<rect x="209.20" y="389.70" width="7.55" height="7.55" fill="#fee4d5"/>
<rect x="216.70" y="389.70" width="7.55" height="7.55" fill="#feede3"/>
<rect x="224.20" y="389.70" width="7.55" height="7.55" fill="#feede3"/>
<rect x="231.70" y="389.70" width="7.55" height="7.55" fill="#feede3"/>
<rect x="239.20" y="389.70" width="7.55" height="7.55" fill="#f4f8fb"/>
<rect x="246.70" y="389.70" width="7.55" height="7.55" fill="#f4f8fb"/>
<rect x="254.20" y="389.70" width="7.55" height="7.55" fill="#e8f2f8"/>
<rect x="261.70" y="389.70" width="7.55" height="7.55" fill="#f4f8fb"/>
<rect x="269.20" y="389.70" width="7.55" height="7.55" fill="#d1e5f0"/>
<rect x="276.70" y="389.70" width="7.55" height="7.55" fill="#e8f2f8"/>
<rect x="284.20" y="389.70" width="7.55" height="7.55" fill="#dcecf4"/>
<rect x="291.70" y="389.70" width="7.55" height="7.55" fill="#dcecf4"/>
<rect x="299.20" y="389.70" width="7.55" height="7.55" fill="#b2d5e7"/>
<rect x="306.70" y="389.70" width="7.55" height="7.55" fill="#ffffff"/>
<rect x="314.20" y="389.70" width="7.55" height="7.55" fill="#dcecf4"/>
<rect x="321.70" y="389.70" width="7.55" height="7.55" fill="#c1ddec"/>
<rect x="329.20" y="389.70" width="7.55" height="7.55" fill="#b2d5e7"/>
<rect x="336.70" y="389.70" width="7.55" height="7.55" fill="#a2cde2"/>
<rect x="344.20" y="389.70" width="7.55" height="7.55" fill="#b2d5e7"/>
<rect x="351.70" y="389.70" width="7.55" height="7.55" fill="#ffffff"/>
<rect x="359.20" y="389.70" width="7.55" height="7.55" fill="#ffffff"/>
<rect x="366.70" y="389.70" width="7.55" height="7.55" fill="#e8f2f8"/>
<rect x="374.20" y="389.70" width="7.55" height="7.55" fill="#feede3"/>
<rect x="381.70" y="389.70" width="7.55" height="7.55" fill="#ffffff"/>
<rect x="389.20" y="389.70" width="7.55" height="7.55" fill="#feede3"/>
<rect x="396.70" y="389.70" width="7.55" height="7.55" fill="#e8f2f8"/>
<rect x="404.20" y="389.70" width="7.55" height="7.55" fill="#feede3"/>
<rect x="411.70" y="389.70" width="7.55" height="7.55" fill="#c1ddec"/>
<rect x="419.20" y="389.70" width="7.55" height="7.55" fill="#ffffff"/>
<rect x="426.70" y="389.70" width="7.55" height="7.55" fill="#e8f2f8"/>
<rect x="434.20" y="389.70" width="7.55" height="7.55" fill="#ffffff"/>
<rect x="441.70" y="389.70" width="7.55" height="7.55" fill="#053061"/>
<rect x="104.20" y="397.20" width="7.55" height="7.55" fill="#f4f8fb"/>
<rect x="111.70" y="397.20" width="7.55" height="7.55" fill="#ffffff"/>
<rect x="119.20" y="397.20" width="7.55" height="7.55" fill="#f8c0a4"/>
<rect x="126.70" y="397.20" width="7.55" height="7.55" fill="#feede3"/>
<rect x="134.20" y="397.20" width="7.55" height="7.55" fill="#e8f2f8"/>
<rect x="141.70" y="397.20" width="7.55" height="7.55" fill="#e8f2f8"/>
<rect x="149.20" y="397.20" width="7.55" height="7.55" fill="#e8f2f8"/>
<rect x="156.70" y="397.20" width="7.55" height="7.55" fill="#c1ddec"/>
<rect x="164.20" y="397.20" width="7.55" height="7.55" fill="#f4f8fb"/>
<rect x="171.70" y="397.20" width="7.55" height="7.55" fill="#fef6f1"/>
<rect x="179.20" y="397.20" width="7.55" height="7.55" fill="#f4f8fb"/>
<rect x="186.70" y="397.20" width="7.55" height="7.55" fill="#ffffff"/>
<rect x="194.20" y="397.20" width="7.55" height="7.55" fill="#fddbc7"/>
<rect x="201.70" y="397.20" width="7.55" height="7.55" fill="#ffffff"/>
<rect x="209.20" y="397.20" width="7.55" height="7.55" fill="#fee4d5"/>
<rect x="216.70" y="397.20" width="7.55" height="7.55" fill="#feede3"/>
<rect x="224.20" y="397.20" width="7.55" height="7.55" fill="#feede3"/>
<rect x="231.70" y="397.20" width="7.55" height="7.55" fill="#feede3"/>
<rect x="239.20" y="397.20" width="7.55" height="7.55" fill="#ffffff"/>
<rect x="246.70" y="397.20" width="7.55" height="7.55" fill="#ffffff"/>
<rect x="254.20" y="397.20" width="7.55" height="7.55" fill="#f4f8fb"/>
<rect x="261.70" y="397.20" width="7.55" height="7.55" fill="#f4f8fb"/>
<rect x="269.20" y="397.20" width="7.55" height="7.55" fill="#e8f2f8"/>
<rect x="276.70" y="397.20" width="7.55" height="7.55" fill="#fee4d5"/>
<rect x="284.20" y="397.20" width="7.55" height="7.55" fill="#ffffff"/>
<rect x="291.70" y="397.20" width="7.55" height="7.55" fill="#ffffff"/>
<rect x="299.20" y="397.20" width="7.55" height="7.55" fill="#e8f2f8"/>
<rect x="306.70" y="397.20" width="7.55" height="7.55" fill="#ffffff"/>
<rect x="314.20" y="397.20" width="7.55" height="7.55" fill="#ffffff"/>
<rect x="321.70" y="397.20" width="7.55" height="7.55" fill="#f4f8fb"/>
<rect x="329.20" y="397.20" width="7.55" height="7.55" fill="#dcecf4"/>
<rect x="336.70" y="397.20" width="7.55" height="7.55" fill="#dcecf4"/>
<rect x="344.20" y="397.20" width="7.55" height="7.55" fill="#e8f2f8"/>
<rect x="351.70" y="397.20" width="7.55" height="7.55" fill="#f6b293"/>
<rect x="359.20" y="397.20" width="7.55" height="7.55" fill="#fbceb6"/>
<rect x="366.70" y="397.20" width="7.55" height="7.55" fill="#fef6f1"/>
<rect x="374.20" y="397.20" width="7.55" height="7.55" fill="#feede3"/>
<rect x="381.70" y="397.20" width="7.55" height="7.55" fill="#ffffff"/>
<rect x="389.20" y="397.20" width="7.55" height="7.55" fill="#fee4d5"/>
<rect x="396.70" y="397.20" width="7.55" height="7.55" fill="#feede3"/>
<rect x="404.20" y="397.20" width="7.55" height="7.55" fill="#feede3"/>
<rect x="411.70" y="397.20" width="7.55" height="7.55" fill="#f4f8fb"/>
<rect x="419.20" y="397.20" width="7.55" height="7.55" fill="#fef6f1"/>
<rect x="426.70" y="397.20" width="7.55" height="7.55" fill="#fef6f1"/>
<rect x="434.20" y="397.20" width="7.55" height="7.55" fill="#fee4d5"/>
<rect x="441.70" y="397.20" width="7.55" height="7.55" fill="#6aacd0"/>
<rect x="449.20" y="397.20" width="7.55" height="7.55" fill="#053061"/>
<rect x="104.20" y="404.70" width="7.55" height="7.55" fill="#ffffff"/>
<rect x="111.70" y="404.70" width="7.55" height="7.55" fill="#f4f8fb"/>
<rect x="119.20" y="404.70" width="7.55" height="7.55" fill="#feede3"/>
<rect x="126.70" y="404.70" width="7.55" height="7.55" fill="#fddbc7"/>
<rect x="134.20" y="404.70" width="7.55" height="7.55" fill="#dcecf4"/>
<rect x="141.70" y="404.70" width="7.55" height="7.55" fill="#dcecf4"/>
<rect x="149.20" y="404.70" width="7.55" height="7.55" fill="#e8f2f8"/>
<rect x="156.70" y="404.70" width="7.55" height="7.55" fill="#a2cde2"/>
<rect x="164.20" y="404.70" width="7.55" height="7.55" fill="#fef6f1"/>
<rect x="171.70" y="404.70" width="7.55" height="7.55" fill="#fbceb6"/>
<rect x="179.20" y="404.70" width="7.55" height="7.55" fill="#fef6f1"/>
<rect x="186.70" y="404.70" width="7.55" height="7.55" fill="#feede3"/>
<rect x="194.20" y="404.70" width="7.55" height="7.55" fill="#feede3"/>
<rect x="201.70" y="404.70" width="7.55" height="7.55" fill="#ffffff"/>
<rect x="209.20" y="404.70" width="7.55" height="7.55" fill="#ffffff"/>
<rect x="216.70" y="404.70" width="7.55" height="7.55" fill="#ffffff"/>
<rect x="224.20" y="404.70" width="7.55" height="7.55" fill="#ffffff"/>
<rect x="231.70" y="404.70" width="7.55" height="7.55" fill="#fef6f1"/>
<rect x="239.20" y="404.70" width="7.55" height="7.55" fill="#feede3"/>
<rect x="246.70" y="404.70" width="7.55" height="7.55" fill="#fee4d5"/>
<rect x="254.20" y="404.70" width="7.55" height="7.55" fill="#e8f2f8"/>
<rect x="261.70" y="404.70" width="7.55" height="7.55" fill="#e8f2f8"/>
<rect x="269.20" y="404.70" width="7.55" height="7.55" fill="#e8f2f8"/>
<rect x="276.70" y="404.70" width="7.55" height="7.55" fill="#feede3"/>
<rect x="284.20" y="404.70" width="7.55" height="7.55" fill="#fef6f1"/>
<rect x="291.70" y="404.70" width="7.55" height="7.55" fill="#fef6f1"/>
<rect x="299.20" y="404.70" width="7.55" height="7.55" fill="#e8f2f8"/>
<rect x="306.70" y="404.70" width="7.55" height="7.55" fill="#fef6f1"/>
<rect x="314.20" y="404.70" width="7.55" height="7.55" fill="#ffffff"/>
<rect x="321.70" y="404.70" width="7.55" height="7.55" fill="#e8f2f8"/>
<rect x="329.20" y="404.70" width="7.55" height="7.55" fill="#f4f8fb"/>
<rect x="336.70" y="404.70" width="7.55" height="7.55" fill="#f4f8fb"/>
<rect x="344.20" y="404.70" width="7.55" height="7.55" fill="#f4f8fb"/>
<rect x="351.70" y="404.70" width="7.55" height="7.55" fill="#f6b293"/>
<rect x="359.20" y="404.70" width="7.55" height="7.55" fill="#fbceb6"/>
<rect x="366.70" y="404.70" width="7.55" height="7.55" fill="#feede3"/>
<rect x="374.20" y="404.70" width="7.55" height="7.55" fill="#feede3"/>
<rect x="381.70" y="404.70" width="7.55" height="7.55" fill="#fef6f1"/>
<rect x="389.20" y="404.70" width="7.55" height="7.55" fill="#feede3"/>
<rect x="396.70" y="404.70" width="7.55" height="7.55" fill="#fddbc7"/>
<rect x="404.20" y="404.70" width="7.55" height="7.55" fill="#fee4d5"/>
<rect x="411.70" y="404.70" width="7.55" height="7.55" fill="#feede3"/>
<rect x="419.20" y="404.70" width="7.55" height="7.55" fill="#fee4d5"/>
<rect x="426.70" y="404.70" width="7.55" height="7.55" fill="#ffffff"/>
<rect x="434.20" y="404.70" width="7.55" height="7.55" fill="#ffffff"/>
<rect x="441.70" y="404.70" width="7.55" height="7.55" fill="#92c5de"/>
<rect x="449.20" y="404.70" width="7.55" height="7.55" fill="#3a88bd"/>
<rect x="456.70" y="404.70" width="7.55" height="7.55" fill="#053061"/>
<rect x="104.20" y="412.20" width="7.55" height="7.55" fill="#f4f8fb"/>
<rect x="111.70" y="412.20" width="7.55" height="7.55" fill="#f4f8fb"/>
<rect x="119.20" y="412.20" width="7.55" height="7.55" fill="#ffffff"/>
<rect x="126.70" y="412.20" width="7.55" height="7.55" fill="#92c5de"/>
<rect x="134.20" y="412.20" width="7.55" height="7.55" fill="#ffffff"/>
<rect x="141.70" y="412.20" width="7.55" height="7.55" fill="#f4f8fb"/>
<rect x="149.20" y="412.20" width="7.55" height="7.55" fill="#fef6f1"/>
<rect x="156.70" y="412.20" width="7.55" height="7.55" fill="#feede3"/>
<rect x="164.20" y="412.20" width="7.55" height="7.55" fill="#feede3"/>
<rect x="171.70" y="412.20" width="7.55" height="7.55" fill="#ffffff"/>
<rect x="179.20" y="412.20" width="7.55" height="7.55" fill="#fef6f1"/>
<rect x="186.70" y="412.20" width="7.55" height="7.55" fill="#feede3"/>
<rect x="194.20" y="412.20" width="7.55" height="7.55" fill="#feede3"/>
<rect x="201.70" y="412.20" width="7.55" height="7.55" fill="#fef6f1"/>
<rect x="209.20" y="412.20" width="7.55" height="7.55" fill="#fef6f1"/>
<rect x="216.70" y="412.20" width="7.55" height="7.55" fill="#ffffff"/>
<rect x="224.20" y="412.20" width="7.55" height="7.55" fill="#ffffff"/>
<rect x="231.70" y="412.20" width="7.55" height="7.55" fill="#fef6f1"/>
<rect x="239.20" y="412.20" width="7.55" height="7.55" fill="#fef6f1"/>
<rect x="246.70" y="412.20" width="7.55" height="7.55" fill="#feede3"/>
<rect x="254.20" y="412.20" width="7.55" height="7.55" fill="#ffffff"/>
<rect x="261.70" y="412.20" width="7.55" height="7.55" fill="#dcecf4"/>
<rect x="269.20" y="412.20" width="7.55" height="7.55" fill="#feede3"/>
<rect x="276.70" y="412.20" width="7.55" height="7.55" fill="#feede3"/>
<rect x="284.20" y="412.20" width="7.55" height="7.55" fill="#fee4d5"/>
<rect x="291.70" y="412.20" width="7.55" height="7.55" fill="#fddbc7"/>
<rect x="299.20" y="412.20" width="7.55" height="7.55" fill="#fef6f1"/>
<rect x="306.70" y="412.20" width="7.55" height="7.55" fill="#ffffff"/>
<rect x="314.20" y="412.20" width="7.55" height="7.55" fill="#fef6f1"/>
<rect x="321.70" y="412.20" width="7.55" height="7.55" fill="#ffffff"/>
<rect x="329.20" y="412.20" width="7.55" height="7.55" fill="#feede3"/>
<rect x="336.70" y="412.20" width="7.55" height="7.55" fill="#feede3"/>
<rect x="344.20" y="412.20" width="7.55" height="7.55" fill="#fef6f1"/>
<rect x="351.70" y="412.20" width="7.55" height="7.55" fill="#fee4d5"/>
<rect x="359.20" y="412.20" width="7.55" height="7.55" fill="#fddbc7"/>
<rect x="366.70" y="412.20" width="7.55" height="7.55" fill="#feede3"/>
<rect x="374.20" y="412.20" width="7.55" height="7.55" fill="#feede3"/>
<rect x="381.70" y="412.20" width="7.55" height="7.55" fill="#ffffff"/>
<rect x="389.20" y="412.20" width="7.55" height="7.55" fill="#f4f8fb"/>
<rect x="396.70" y="412.20" width="7.55" height="7.55" fill="#f6b293"/>
<rect x="404.20" y="412.20" width="7.55" height="7.55" fill="#feede3"/>
<rect x="411.70" y="412.20" width="7.55" height="7.55" fill="#feede3"/>
<rect x="419.20" y="412.20" width="7.55" height="7.55" fill="#feede3"/>
<rect x="426.70" y="412.20" width="7.55" height="7.55" fill="#e8f2f8"/>
<rect x="434.20" y="412.20" width="7.55" height="7.55" fill="#ffffff"/>
<rect x="441.70" y="412.20" width="7.55" height="7.55" fill="#fee4d5"/>
<rect x="449.20" y="412.20" width="7.55" height="7.55" fill="#ffffff"/>
<rect x="456.70" y="412.20" width="7.55" height="7.55" fill="#d1e5f0"/>
<rect x="464.20" y="412.20" width="7.55" height="7.55" fill="#053061"/>
<rect x="104.20" y="419.70" width="7.55" height="7.55" fill="#fee4d5"/>
<rect x="111.70" y="419.70" width="7.55" height="7.55" fill="#e8f2f8"/>
<rect x="119.20" y="419.70" width="7.55" height="7.55" fill="#ffffff"/>
<rect x="126.70" y="419.70" width="7.55" height="7.55" fill="#feede3"/>
<rect x="134.20" y="419.70" width="7.55" height="7.55" fill="#ffffff"/>
<rect x="141.70" y="419.70" width="7.55" height="7.55" fill="#ffffff"/>
<rect x="149.20" y="419.70" width="7.55" height="7.55" fill="#e8f2f8"/>
<rect x="156.70" y="419.70" width="7.55" height="7.55" fill="#f4f8fb"/>
<rect x="164.20" y="419.70" width="7.55" height="7.55" fill="#ffffff"/>
<rect x="171.70" y="419.70" width="7.55" height="7.55" fill="#fef6f1"/>
<rect x="179.20" y="419.70" width="7.55" height="7.55" fill="#f4f8fb"/>
<rect x="186.70" y="419.70" width="7.55" height="7.55" fill="#fee4d5"/>
<rect x="194.20" y="419.70" width="7.55" height="7.55" fill="#feede3"/>
<rect x="201.70" y="419.70" width="7.55" height="7.55" fill="#fee4d5"/>
<rect x="209.20" y="419.70" width="7.55" height="7.55" fill="#fee4d5"/>
<rect x="216.70" y="419.70" width="7.55" height="7.55" fill="#feede3"/>
<rect x="224.20" y="419.70" width="7.55" height="7.55" fill="#feede3"/>
<rect x="231.70" y="419.70" width="7.55" height="7.55" fill="#feede3"/>
<rect x="239.20" y="419.70" width="7.55" height="7.55" fill="#ffffff"/>
<rect x="246.70" y="419.70" width="7.55" height="7.55" fill="#feede3"/>
<rect x="254.20" y="419.70" width="7.55" height="7.55" fill="#feede3"/>
<rect x="261.70" y="419.70" width="7.55" height="7.55" fill="#dcecf4"/>
<rect x="269.20" y="419.70" width="7.55" height="7.55" fill="#feede3"/>
<rect x="276.70" y="419.70" width="7.55" height="7.55" fill="#feede3"/>
<rect x="284.20" y="419.70" width="7.55" height="7.55" fill="#fee4d5"/>
<rect x="291.70" y="419.70" width="7.55" height="7.55" fill="#fddbc7"/>
<rect x="299.20" y="419.70" width="7.55" height="7.55" fill="#fef6f1"/>
<rect x="306.70" y="419.70" width="7.55" height="7.55" fill="#feede3"/>
<rect x="314.20" y="419.70" width="7.55" height="7.55" fill="#fef6f1"/>
<rect x="321.70" y="419.70" width="7.55" height="7.55" fill="#ffffff"/>
<rect x="329.20" y="419.70" width="7.55" height="7.55" fill="#feede3"/>
<rect x="336.70" y="419.70" width="7.55" height="7.55" fill="#fef6f1"/>
<rect x="344.20" y="419.70" width="7.55" height="7.55" fill="#ffffff"/>
<rect x="351.70" y="419.70" width="7.55" height="7.55" fill="#fddbc7"/>
<rect x="359.20" y="419.70" width="7.55" height="7.55" fill="#fddbc7"/>
<rect x="366.70" y="419.70" width="7.55" height="7.55" fill="#fbceb6"/>
<rect x="374.20" y="419.70" width="7.55" height="7.55" fill="#fbceb6"/>
<rect x="381.70" y="419.70" width="7.55" height="7.55" fill="#fbceb6"/>
<rect x="389.20" y="419.70" width="7.55" height="7.55" fill="#feede3"/>
<rect x="396.70" y="419.70" width="7.55" height="7.55" fill="#f8c0a4"/>
<rect x="404.20" y="419.70" width="7.55" height="7.55" fill="#f8c0a4"/>
<rect x="411.70" y="419.70" width="7.55" height="7.55" fill="#f6b293"/>
<rect x="419.20" y="419.70" width="7.55" height="7.55" fill="#ec9475"/>
<rect x="426.70" y="419.70" width="7.55" height="7.55" fill="#ffffff"/>
<rect x="434.20" y="419.70" width="7.55" height="7.55" fill="#fef6f1"/>
<rect x="441.70" y="419.70" width="7.55" height="7.55" fill="#feede3"/>
<rect x="449.20" y="419.70" width="7.55" height="7.55" fill="#ffffff"/>
<rect x="456.70" y="419.70" width="7.55" height="7.55" fill="#d1e5f0"/>
<rect x="464.20" y="419.70" width="7.55" height="7.55" fill="#4393c3"/>
<rect x="471.70" y="419.70" width="7.55" height="7.55" fill="#053061"/>
<rect x="104.20" y="427.20" width="7.55" height="7.55" fill="#feede3"/>
<rect x="111.70" y="427.20" width="7.55" height="7.55" fill="#e8f2f8"/>
<rect x="119.20" y="427.20" width="7.55" height="7.55" fill="#ffffff"/>
<rect x="126.70" y="427.20" width="7.55" height="7.55" fill="#ffffff"/>
<rect x="134.20" y="427.20" width="7.55" height="7.55" fill="#ffffff"/>
<rect x="141.70" y="427.20" width="7.55" height="7.55" fill="#ffffff"/>
<rect x="149.20" y="427.20" width="7.55" height="7.55" fill="#f4f8fb"/>
<rect x="156.70" y="427.20" width="7.55" height="7.55" fill="#ffffff"/>
<rect x="164.20" y="427.20" width="7.55" height="7.55" fill="#ffffff"/>
<rect x="171.70" y="427.20" width="7.55" height="7.55" fill="#ffffff"/>
<rect x="179.20" y="427.20" width="7.55" height="7.55" fill="#ffffff"/>
<rect x="186.70" y="427.20" width="7.55" height="7.55" fill="#fef6f1"/>
<rect x="194.20" y="427.20" width="7.55" height="7.55" fill="#feede3"/>
<rect x="201.70" y="427.20" width="7.55" height="7.55" fill="#feede3"/>
<rect x="209.20" y="427.20" width="7.55" height="7.55" fill="#fef6f1"/>
<rect x="216.70" y="427.20" width="7.55" height="7.55" fill="#fef6f1"/>
<rect x="224.20" y="427.20" width="7.55" height="7.55" fill="#fef6f1"/>
<rect x="231.70" y="427.20" width="7.55" height="7.55" fill="#fef6f1"/>
<rect x="239.20" y="427.20" width="7.55" height="7.55" fill="#ffffff"/>
<rect x="246.70" y="427.20" width="7.55" height="7.55" fill="#feede3"/>
<rect x="254.20" y="427.20" width="7.55" height="7.55" fill="#feede3"/>
<rect x="261.70" y="427.20" width="7.55" height="7.55" fill="#dcecf4"/>
<rect x="269.20" y="427.20" width="7.55" height="7.55" fill="#fef6f1"/>
<rect x="276.70" y="427.20" width="7.55" height="7.55" fill="#fee4d5"/>
<rect x="284.20" y="427.20" width="7.55" height="7.55" fill="#fddbc7"/>
<rect x="291.70" y="427.20" width="7.55" height="7.55" fill="#fbceb6"/>
<rect x="299.20" y="427.20" width="7.55" height="7.55" fill="#feede3"/>
<rect x="306.70" y="427.20" width="7.55" height="7.55" fill="#feede3"/>
<rect x="314.20" y="427.20" width="7.55" height="7.55" fill="#feede3"/>
<rect x="321.70" y="427.20" width="7.55" height="7.55" fill="#ffffff"/>
<rect x="329.20" y="427.20" width="7.55" height="7.55" fill="#feede3"/>
<rect x="336.70" y="427.20" width="7.55" height="7.55" fill="#fef6f1"/>
<rect x="344.20" y="427.20" width="7.55" height="7.55" fill="#ffffff"/>
<rect x="351.70" y="427.20" width="7.55" height="7.55" fill="#fddbc7"/>
<rect x="359.20" y="427.20" width="7.55" height="7.55" fill="#fbceb6"/>
<rect x="366.70" y="427.20" width="7.55" height="7.55" fill="#f6b293"/>
<rect x="374.20" y="427.20" width="7.55" height="7.55" fill="#f6b293"/>
<rect x="381.70" y="427.20" width="7.55" height="7.55" fill="#f8c0a4"/>
<rect x="389.20" y="427.20" width="7.55" height="7.55" fill="#feede3"/>
<rect x="396.70" y="427.20" width="7.55" height="7.55" fill="#f8c0a4"/>
<rect x="404.20" y="427.20" width="7.55" height="7.55" fill="#fddbc7"/>
<rect x="411.70" y="427.20" width="7.55" height="7.55" fill="#f6b293"/>
<rect x="419.20" y="427.20" width="7.55" height="7.55" fill="#f4a582"/>
<rect x="426.70" y="427.20" width="7.55" height="7.55" fill="#fef6f1"/>
<rect x="434.20" y="427.20" width="7.55" height="7.55" fill="#fef6f1"/>
<rect x="441.70" y="427.20" width="7.55" height="7.55" fill="#fef6f1"/>
<rect x="449.20" y="427.20" width="7.55" height="7.55" fill="#ffffff"/>
<rect x="456.70" y="427.20" width="7.55" height="7.55" fill="#b2d5e7"/>
<rect x="464.20" y="427.20" width="7.55" height="7.55" fill="#327cb8"/>
<rect x="471.70" y="427.20" width="7.55" height="7.55" fill="#2166ac"/>
<rect x="479.20" y="427.20" width="7.55" height="7.55" fill="#053061"/>
<rect x="104.20" y="434.70" width="7.55" height="7.55" fill="#ffffff"/>
<rect x="111.70" y="434.70" width="7.55" height="7.55" fill="#e8f2f8"/>
<rect x="119.20" y="434.70" width="7.55" height="7.55" fill="#b2d5e7"/>
<rect x="126.70" y="434.70" width="7.55" height="7.55" fill="#ffffff"/>
<rect x="134.20" y="434.70" width="7.55" height="7.55" fill="#f8c0a4"/>
<rect x="141.70" y="434.70" width="7.55" height="7.55" fill="#92c5de"/>
<rect x="149.20" y="434.70" width="7.55" height="7.55" fill="#dcecf4"/>
<rect x="156.70" y="434.70" width="7.55" height="7.55" fill="#dcecf4"/>
<rect x="164.20" y="434.70" width="7.55" height="7.55" fill="#fbceb6"/>
<rect x="171.70" y="434.70" width="7.55" height="7.55" fill="#dcecf4"/>
<rect x="179.20" y="434.70" width="7.55" height="7.55" fill="#e8f2f8"/>
<rect x="186.70" y="434.70" width="7.55" height="7.55" fill="#feede3"/>
<rect x="194.20" y="434.70" width="7.55" height="7.55" fill="#feede3"/>
<rect x="201.70" y="434.70" width="7.55" height="7.55" fill="#fddbc7"/>
<rect x="209.20" y="434.70" width="7.55" height="7.55" fill="#feede3"/>
<rect x="216.70" y="434.70" width="7.55" height="7.55" fill="#fddbc7"/>
<rect x="224.20" y="434.70" width="7.55" height="7.55" fill="#feede3"/>
<rect x="231.70" y="434.70" width="7.55" height="7.55" fill="#feede3"/>
<rect x="239.20" y="434.70" width="7.55" height="7.55" fill="#ffffff"/>
<rect x="246.70" y="434.70" width="7.55" height="7.55" fill="#f4f8fb"/>
<rect x="254.20" y="434.70" width="7.55" height="7.55" fill="#b2d5e7"/>
<rect x="261.70" y="434.70" width="7.55" height="7.55" fill="#b2d5e7"/>
<rect x="269.20" y="434.70" width="7.55" height="7.55" fill="#d1e5f0"/>
<rect x="276.70" y="434.70" width="7.55" height="7.55" fill="#d1e5f0"/>
<rect x="284.20" y="434.70" width="7.55" height="7.55" fill="#feede3"/>
<rect x="291.70" y="434.70" width="7.55" height="7.55" fill="#fbceb6"/>
<rect x="299.20" y="434.70" width="7.55" height="7.55" fill="#f4f8fb"/>
<rect x="306.70" y="434.70" width="7.55" height="7.55" fill="#f4f8fb"/>
<rect x="314.20" y="434.70" width="7.55" height="7.55" fill="#f4f8fb"/>
<rect x="321.70" y="434.70" width="7.55" height="7.55" fill="#feede3"/>
<rect x="329.20" y="434.70" width="7.55" height="7.55" fill="#fef6f1"/>
<rect x="336.70" y="434.70" width="7.55" height="7.55" fill="#f4f8fb"/>
<rect x="344.20" y="434.70" width="7.55" height="7.55" fill="#f4f8fb"/>
<rect x="351.70" y="434.70" width="7.55" height="7.55" fill="#fbceb6"/>
<rect x="359.20" y="434.70" width="7.55" height="7.55" fill="#fddbc7"/>
<rect x="366.70" y="434.70" width="7.55" height="7.55" fill="#f4f8fb"/>
<rect x="374.20" y="434.70" width="7.55" height="7.55" fill="#f4f8fb"/>
<rect x="381.70" y="434.70" width="7.55" height="7.55" fill="#d1e5f0"/>
<rect x="389.20" y="434.70" width="7.55" height="7.55" fill="#dcecf4"/>
<rect x="396.70" y="434.70" width="7.55" height="7.55" fill="#de715a"/>
<rect x="404.20" y="434.70" width="7.55" height="7.55" fill="#e58268"/>
<rect x="411.70" y="434.70" width="7.55" height="7.55" fill="#f6b293"/>
<rect x="419.20" y="434.70" width="7.55" height="7.55" fill="#ec9475"/>
<rect x="426.70" y="434.70" width="7.55" height="7.55" fill="#f4f8fb"/>
<rect x="434.20" y="434.70" width="7.55" height="7.55" fill="#f4f8fb"/>
<rect x="441.70" y="434.70" width="7.55" height="7.55" fill="#fef6f1"/>
<rect x="449.20" y="434.70" width="7.55" height="7.55" fill="#ffffff"/>
<rect x="456.70" y="434.70" width="7.55" height="7.55" fill="#ffffff"/>
<rect x="464.20" y="434.70" width="7.55" height="7.55" fill="#d1e5f0"/>
<rect x="471.70" y="434.70" width="7.55" height="7.55" fill="#b2d5e7"/>
<rect x="479.20" y="434.70" width="7.55" height="7.55" fill="#b2d5e7"/>
<rect x="486.70" y="434.70" width="7.55" height="7.55" fill="#053061"/>
<rect x="104.20" y="442.20" width="7.55" height="7.55" fill="#f4f8fb"/>
<rect x="111.70" y="442.20" width="7.55" height="7.55" fill="#e8f2f8"/>
<rect x="119.20" y="442.20" width="7.55" height="7.55" fill="#ffffff"/>
<rect x="126.70" y="442.20" width="7.55" height="7.55" fill="#f8c0a4"/>
<rect x="134.20" y="442.20" width="7.55" height="7.55" fill="#ffffff"/>
<rect x="141.70" y="442.20" width="7.55" height="7.55" fill="#d1e5f0"/>
<rect x="149.20" y="442.20" width="7.55" height="7.55" fill="#d1e5f0"/>
<rect x="156.70" y="442.20" width="7.55" height="7.55" fill="#ffffff"/>
<rect x="164.20" y="442.20" width="7.55" height="7.55" fill="#fddbc7"/>
<rect x="171.70" y="442.20" width="7.55" height="7.55" fill="#f4f8fb"/>
<rect x="179.20" y="442.20" width="7.55" height="7.55" fill="#ffffff"/>
<rect x="186.70" y="442.20" width="7.55" height="7.55" fill="#fee4d5"/>
<rect x="194.20" y="442.20" width="7.55" height="7.55" fill="#fee4d5"/>
<rect x="201.70" y="442.20" width="7.55" height="7.55" fill="#f8c0a4"/>
<rect x="209.20" y="442.20" width="7.55" height="7.55" fill="#fddbc7"/>
<rect x="216.70" y="442.20" width="7.55" height="7.55" fill="#fddbc7"/>
<rect x="224.20" y="442.20" width="7.55" height="7.55" fill="#fbceb6"/>
<rect x="231.70" y="442.20" width="7.55" height="7.55" fill="#fbceb6"/>
<rect x="239.20" y="442.20" width="7.55" height="7.55" fill="#ffffff"/>
<rect x="246.70" y="442.20" width="7.55" height="7.55" fill="#d1e5f0"/>
<rect x="254.20" y="442.20" width="7.55" height="7.55" fill="#ffffff"/>
<rect x="261.70" y="442.20" width="7.55" height="7.55" fill="#dcecf4"/>
<rect x="269.20" y="442.20" width="7.55" height="7.55" fill="#fef6f1"/>
<rect x="276.70" y="442.20" width="7.55" height="7.55" fill="#fef6f1"/>
<rect x="284.20" y="442.20" width="7.55" height="7.55" fill="#feede3"/>
<rect x="291.70" y="442.20" width="7.55" height="7.55" fill="#feede3"/>
<rect x="299.20" y="442.20" width="7.55" height="7.55" fill="#ffffff"/>
<rect x="306.70" y="442.20" width="7.55" height="7.55" fill="#fddbc7"/>
<rect x="314.20" y="442.20" width="7.55" height="7.55" fill="#fee4d5"/>
<rect x="321.70" y="442.20" width="7.55" height="7.55" fill="#fef6f1"/>
<rect x="329.20" y="442.20" width="7.55" height="7.55" fill="#fef6f1"/>
<rect x="336.70" y="442.20" width="7.55" height="7.55" fill="#ffffff"/>
<rect x="344.20" y="442.20" width="7.55" height="7.55" fill="#ffffff"/>
<rect x="351.70" y="442.20" width="7.55" height="7.55" fill="#fddbc7"/>
<rect x="359.20" y="442.20" width="7.55" height="7.55" fill="#fddbc7"/>
<rect x="366.70" y="442.20" width="7.55" height="7.55" fill="#fbceb6"/>
<rect x="374.20" y="442.20" width="7.55" height="7.55" fill="#ec9475"/>
<rect x="381.70" y="442.20" width="7.55" height="7.55" fill="#f8c0a4"/>
<rect x="389.20" y="442.20" width="7.55" height="7.55" fill="#f8c0a4"/>
<rect x="396.70" y="442.20" width="7.55" height="7.55" fill="#fddbc7"/>
<rect x="404.20" y="442.20" width="7.55" height="7.55" fill="#f8c0a4"/>
<rect x="411.70" y="442.20" width="7.55" height="7.55" fill="#f8c0a4"/>
<rect x="419.20" y="442.20" width="7.55" height="7.55" fill="#ec9475"/>
<rect x="426.70" y="442.20" width="7.55" height="7.55" fill="#ffffff"/>
<rect x="434.20" y="442.20" width="7.55" height="7.55" fill="#ffffff"/>
<rect x="441.70" y="442.20" width="7.55" height="7.55" fill="#d1e5f0"/>
<rect x="449.20" y="442.20" width="7.55" height="7.55" fill="#f4f8fb"/>
<rect x="456.70" y="442.20" width="7.55" height="7.55" fill="#dcecf4"/>
<rect x="464.20" y="442.20" width="7.55" height="7.55" fill="#ffffff"/>
<rect x="471.70" y="442.20" width="7.55" height="7.55" fill="#b2d5e7"/>
<rect x="479.20" y="442.20" width="7.55" height="7.55" fill="#b2d5e7"/>
<rect x="486.70" y="442.20" width="7.55" height="7.55" fill="#92c5de"/>
<rect x="494.20" y="442.20" width="7.55" height="7.55" fill="#053061"/>
<rect x="104.20" y="449.70" width="7.55" height="7.55" fill="#e8f2f8"/>
<rect x="111.70" y="449.70" width="7.55" height="7.55" fill="#dcecf4"/>
<rect x="119.20" y="449.70" width="7.55" height="7.55" fill="#f4f8fb"/>
<rect x="126.70" y="449.70" width="7.55" height="7.55" fill="#feede3"/>
<rect x="134.20" y="449.70" width="7.55" height="7.55" fill="#ffffff"/>
<rect x="141.70" y="449.70" width="7.55" height="7.55" fill="#d1e5f0"/>
<rect x="149.20" y="449.70" width="7.55" height="7.55" fill="#b2d5e7"/>
<rect x="156.70" y="449.70" width="7.55" height="7.55" fill="#fef6f1"/>
<rect x="164.20" y="449.70" width="7.55" height="7.55" fill="#fef6f1"/>
<rect x="171.70" y="449.70" width="7.55" height="7.55" fill="#ffffff"/>
<rect x="179.20" y="449.70" width="7.55" height="7.55" fill="#feede3"/>
<rect x="186.70" y="449.70" width="7.55" height="7.55" fill="#ffffff"/>
<rect x="194.20" y="449.70" width="7.55" height="7.55" fill="#feede3"/>
<rect x="201.70" y="449.70" width="7.55" height="7.55" fill="#fbceb6"/>
<rect x="209.20" y="449.70" width="7.55" height="7.55" fill="#feede3"/>
<rect x="216.70" y="449.70" width="7.55" height="7.55" fill="#feede3"/>
<rect x="224.20" y="449.70" width="7.55" height="7.55" fill="#feede3"/>
<rect x="231.70" y="449.70" width="7.55" height="7.55" fill="#feede3"/>
<rect x="239.20" y="449.70" width="7.55" height="7.55" fill="#ffffff"/>
<rect x="246.70" y="449.70" width="7.55" height="7.55" fill="#fef6f1"/>
<rect x="254.20" y="449.70" width="7.55" height="7.55" fill="#ffffff"/>
<rect x="261.70" y="449.70" width="7.55" height="7.55" fill="#a2cde2"/>
<rect x="269.20" y="449.70" width="7.55" height="7.55" fill="#fef6f1"/>
<rect x="276.70" y="449.70" width="7.55" height="7.55" fill="#fef6f1"/>
<rect x="284.20" y="449.70" width="7.55" height="7.55" fill="#feede3"/>
<rect x="291.70" y="449.70" width="7.55" height="7.55" fill="#fddbc7"/>
<rect x="299.20" y="449.70" width="7.55" height="7.55" fill="#ffffff"/>
<rect x="306.70" y="449.70" width="7.55" height="7.55" fill="#fef6f1"/>
<rect x="314.20" y="449.70" width="7.55" height="7.55" fill="#fef6f1"/>
<rect x="321.70" y="449.70" width="7.55" height="7.55" fill="#fef6f1"/>
<rect x="329.20" y="449.70" width="7.55" height="7.55" fill="#fef6f1"/>
<rect x="336.70" y="449.70" width="7.55" height="7.55" fill="#f4f8fb"/>
<rect x="344.20" y="449.70" width="7.55" height="7.55" fill="#ffffff"/>
<rect x="351.70" y="449.70" width="7.55" height="7.55" fill="#fddbc7"/>
<rect x="359.20" y="449.70" width="7.55" height="7.55" fill="#fbceb6"/>
<rect x="366.70" y="449.70" width="7.55" height="7.55" fill="#f6b293"/>
<rect x="374.20" y="449.70" width="7.55" height="7.55" fill="#f4a582"/>
<rect x="381.70" y="449.70" width="7.55" height="7.55" fill="#fddbc7"/>
<rect x="389.20" y="449.70" width="7.55" height="7.55" fill="#e58268"/>
<rect x="396.70" y="449.70" width="7.55" height="7.55" fill="#e58268"/>
<rect x="404.20" y="449.70" width="7.55" height="7.55" fill="#d6604d"/>
<rect x="411.70" y="449.70" width="7.55" height="7.55" fill="#bb2a34"/>
<rect x="419.20" y="449.70" width="7.55" height="7.55" fill="#9f1228"/>
<rect x="426.70" y="449.70" width="7.55" height="7.55" fill="#fef6f1"/>
<rect x="434.20" y="449.70" width="7.55" height="7.55" fill="#fef6f1"/>
<rect x="441.70" y="449.70" width="7.55" height="7.55" fill="#feede3"/>
<rect x="449.20" y="449.70" width="7.55" height="7.55" fill="#ffffff"/>
<rect x="456.70" y="449.70" width="7.55" height="7.55" fill="#e8f2f8"/>
<rect x="464.20" y="449.70" width="7.55" height="7.55" fill="#e8f2f8"/>
<rect x="471.70" y="449.70" width="7.55" height="7.55" fill="#b2d5e7"/>
<rect x="479.20" y="449.70" width="7.55" height="7.55" fill="#b2d5e7"/>
<rect x="486.70" y="449.70" width="7.55" height="7.55" fill="#7eb8d7"/>
<rect x="494.20" y="449.70" width="7.55" height="7.55" fill="#4393c3"/>
<rect x="501.70" y="449.70" width="7.55" height="7.55" fill="#053061"/>
<rect x="104.20" y="457.20" width="7.55" height="7.55" fill="#e8f2f8"/>
<rect x="111.70" y="457.20" width="7.55" height="7.55" fill="#c1ddec"/>
<rect x="119.20" y="457.20" width="7.55" height="7.55" fill="#f4f8fb"/>
<rect x="126.70" y="457.20" width="7.55" height="7.55" fill="#feede3"/>
<rect x="134.20" y="457.20" width="7.55" height="7.55" fill="#ffffff"/>
<rect x="141.70" y="457.20" width="7.55" height="7.55" fill="#d1e5f0"/>
<rect x="149.20" y="457.20" width="7.55" height="7.55" fill="#b2d5e7"/>
<rect x="156.70" y="457.20" width="7.55" height="7.55" fill="#fef6f1"/>
<rect x="164.20" y="457.20" width="7.55" height="7.55" fill="#feede3"/>
<rect x="171.70" y="457.20" width="7.55" height="7.55" fill="#fef6f1"/>
<rect x="179.20" y="457.20" width="7.55" height="7.55" fill="#feede3"/>
<rect x="186.70" y="457.20" width="7.55" height="7.55" fill="#fef6f1"/>
<rect x="194.20" y="457.20" width="7.55" height="7.55" fill="#fee4d5"/>
<rect x="201.70" y="457.20" width="7.55" height="7.55" fill="#f8c0a4"/>
<rect x="209.20" y="457.20" width="7.55" height="7.55" fill="#fee4d5"/>
<rect x="216.70" y="457.20" width="7.55" height="7.55" fill="#fee4d5"/>
<rect x="224.20" y="457.20" width="7.55" height="7.55" fill="#fee4d5"/>
<rect x="231.70" y="457.20" width="7.55" height="7.55" fill="#fee4d5"/>
<rect x="239.20" y="457.20" width="7.55" height="7.55" fill="#ffffff"/>
<rect x="246.70" y="457.20" width="7.55" height="7.55" fill="#fef6f1"/>
<rect x="254.20" y="457.20" width="7.55" height="7.55" fill="#fef6f1"/>
<rect x="261.70" y="457.20" width="7.55" height="7.55" fill="#a2cde2"/>
<rect x="269.20" y="457.20" width="7.55" height="7.55" fill="#feede3"/>
<rect x="276.70" y="457.20" width="7.55" height="7.55" fill="#feede3"/>
<rect x="284.20" y="457.20" width="7.55" height="7.55" fill="#fee4d5"/>
<rect x="291.70" y="457.20" width="7.55" height="7.55" fill="#fbceb6"/>
<rect x="299.20" y="457.20" width="7.55" height="7.55" fill="#fef6f1"/>
<rect x="306.70" y="457.20" width="7.55" height="7.55" fill="#feede3"/>
<rect x="314.20" y="457.20" width="7.55" height="7.55" fill="#feede3"/>
<rect x="321.70" y="457.20" width="7.55" height="7.55" fill="#feede3"/>
<rect x="329.20" y="457.20" width="7.55" height="7.55" fill="#feede3"/>
<rect x="336.70" y="457.20" width="7.55" height="7.55" fill="#f4f8fb"/>
<rect x="344.20" y="457.20" width="7.55" height="7.55" fill="#ffffff"/>
<rect x="351.70" y="457.20" width="7.55" height="7.55" fill="#fbceb6"/>
<rect x="359.20" y="457.20" width="7.55" height="7.55" fill="#f8c0a4"/>
<rect x="366.70" y="457.20" width="7.55" height="7.55" fill="#f6b293"/>
<rect x="374.20" y="457.20" width="7.55" height="7.55" fill="#ec9475"/>
<rect x="381.70" y="457.20" width="7.55" height="7.55" fill="#fddbc7"/>
<rect x="389.20" y="457.20" width="7.55" height="7.55" fill="#e58268"/>
<rect x="396.70" y="457.20" width="7.55" height="7.55" fill="#e58268"/>
<rect x="404.20" y="457.20" width="7.55" height="7.55" fill="#d6604d"/>
<rect x="411.70" y="457.20" width="7.55" height="7.55" fill="#b2182b"/>
<rect x="419.20" y="457.20" width="7.55" height="7.55" fill="#7a0622"/>
<rect x="426.70" y="457.20" width="7.55" height="7.55" fill="#fef6f1"/>
<rect x="434.20" y="457.20" width="7.55" height="7.55" fill="#fef6f1"/>
<rect x="441.70" y="457.20" width="7.55" height="7.55" fill="#fef6f1"/>
<rect x="449.20" y="457.20" width="7.55" height="7.55" fill="#e8f2f8"/>
<rect x="456.70" y="457.20" width="7.55" height="7.55" fill="#dcecf4"/>
<rect x="464.20" y="457.20" width="7.55" height="7.55" fill="#dcecf4"/>
<rect x="471.70" y="457.20" width="7.55" height="7.55" fill="#57a0ca"/>
<rect x="479.20" y="457.20" width="7.55" height="7.55" fill="#57a0ca"/>
<rect x="486.70" y="457.20" width="7.55" height="7.55" fill="#57a0ca"/>
<rect x="494.20" y="457.20" width="7.55" height="7.55" fill="#4393c3"/>
<rect x="501.70" y="457.20" width="7.55" height="7.55" fill="#134b86"/>
<rect x="509.20" y="457.20" width="7.55" height="7.55" fill="#053061"/>
</g>
<g font-size="9.10" text-anchor="end">
<text transform="translate(98.30 59.00) scale(1 1.100)">IMF</text>
<text transform="translate(98.30 66.50) scale(1 1.100)">REA</text>
<text transform="translate(98.30 74.00) scale(1 1.100)">BFT</text>
<text transform="translate(98.30 81.50) scale(1 1.100)">C18:1 trans−6,7,8,9</text>
<text transform="translate(98.30 89.00) scale(1 1.100)">Se</text>
<text transform="translate(98.30 96.50) scale(1 1.100)">C18:2 trans−11, cis−15</text>
<text transform="translate(98.30 104.00) scale(1 1.100)">C18:2 cis−9, trans−11</text>
<text transform="translate(98.30 111.50) scale(1 1.100)">Ar</text>
<text transform="translate(98.30 119.00) scale(1 1.100)">Fe</text>
<text transform="translate(98.30 126.50) scale(1 1.100)">Mn</text>
<text transform="translate(98.30 134.00) scale(1 1.100)">Co</text>
<text transform="translate(98.30 141.50) scale(1 1.100)">Ca</text>
<text transform="translate(98.30 149.00) scale(1 1.100)">S</text>
<text transform="translate(98.30 156.50) scale(1 1.100)">Zn</text>
<text transform="translate(98.30 164.00) scale(1 1.100)">Na</text>
<text transform="translate(98.30 171.50) scale(1 1.100)">Mg</text>
<text transform="translate(98.30 179.00) scale(1 1.100)">P</text>
<text transform="translate(98.30 186.50) scale(1 1.100)">K</text>
<text transform="translate(98.30 194.00) scale(1 1.100)">Cu</text>
<text transform="translate(98.30 201.50) scale(1 1.100)">Cr</text>
<text transform="translate(98.30 209.00) scale(1 1.100)">C14:1 cis−9</text>
<text transform="translate(98.30 216.50) scale(1 1.100)">C16:1 cis−9</text>
<text transform="translate(98.30 224.00) scale(1 1.100)">C20:2</text>
<text transform="translate(98.30 231.50) scale(1 1.100)">C18:3n3</text>
<text transform="translate(98.30 239.00) scale(1 1.100)">C20:3n6</text>
<text transform="translate(98.30 246.50) scale(1 1.100)">n6</text>
<text transform="translate(98.30 254.00) scale(1 1.100)">C22:6</text>
<text transform="translate(98.30 261.50) scale(1 1.100)">C18:2 cis−9,12</text>
<text transform="translate(98.30 269.00) scale(1 1.100)">PUFA</text>
<text transform="translate(98.30 276.50) scale(1 1.100)">C20:5</text>
<text transform="translate(98.30 284.00) scale(1 1.100)">C20:4</text>
<text transform="translate(98.30 291.50) scale(1 1.100)">C22:5</text>
<text transform="translate(98.30 299.00) scale(1 1.100)">n3</text>
<text transform="translate(98.30 306.50) scale(1 1.100)">C10:0</text>
<text transform="translate(98.30 314.00) scale(1 1.100)">C12:0</text>
<text transform="translate(98.30 321.50) scale(1 1.100)">C15:0</text>
<text transform="translate(98.30 329.00) scale(1 1.100)">C14:0</text>
<text transform="translate(98.30 336.50) scale(1 1.100)">C18:1 trans−10,11,12</text>
<text transform="translate(98.30 344.00) scale(1 1.100)">C17:0</text>
<text transform="translate(98.30 351.50) scale(1 1.100)">C18:3n6</text>
<text transform="translate(98.30 359.00) scale(1 1.100)">C18:0</text>
<text transform="translate(98.30 366.50) scale(1 1.100)">C16:0</text>
<text transform="translate(98.30 374.00) scale(1 1.100)">SFA</text>
<text transform="translate(98.30 381.50) scale(1 1.100)">C18:1 cis−15</text>
<text transform="translate(98.30 389.00) scale(1 1.100)">C18:1 trans−16</text>
<text transform="translate(98.30 396.50) scale(1 1.100)">WBSF</text>
<text transform="translate(98.30 404.00) scale(1 1.100)">WBSF7</text>
<text transform="translate(98.30 411.50) scale(1 1.100)">WBSF14</text>
<text transform="translate(98.30 419.00) scale(1 1.100)">C18:1 cis−13</text>
<text transform="translate(98.30 426.50) scale(1 1.100)">C18:1 cis−11</text>
<text transform="translate(98.30 434.00) scale(1 1.100)">C18:1 cis−12</text>
<text transform="translate(98.30 441.50) scale(1 1.100)">C17:1</text>
<text transform="translate(98.30 449.00) scale(1 1.100)">C20:1</text>
<text transform="translate(98.30 456.50) scale(1 1.100)">C18:1 cis−9</text>
<text transform="translate(98.30 464.00) scale(1 1.100)">C18:1 total</text>
</g>
<g font-size="9.10">
<text transform="translate(109.45 50.60) rotate(-54.00) scale(1 1.150)">IMF</text>
<text transform="translate(116.95 58.10) rotate(-54.00) scale(1 1.150)">REA</text>
<text transform="translate(124.45 65.60) rotate(-54.00) scale(1 1.150)">BFT</text>
<text transform="translate(131.95 73.10) rotate(-54.00) scale(1 1.150)">C18:1 trans−6,7,8,9</text>
<text transform="translate(139.45 80.60) rotate(-54.00) scale(1 1.150)">Se</text>
<text transform="translate(146.95 88.10) rotate(-54.00) scale(1 1.150)">C18:2 trans−11, cis−15</text>
<text transform="translate(154.45 95.60) rotate(-54.00) scale(1 1.150)">C18:2 cis−9, trans−11</text>
<text transform="translate(161.95 103.10) rotate(-54.00) scale(1 1.150)">Ar</text>
<text transform="translate(169.45 110.60) rotate(-54.00) scale(1 1.150)">Fe</text>
<text transform="translate(176.95 118.10) rotate(-54.00) scale(1 1.150)">Mn</text>
<text transform="translate(184.45 125.60) rotate(-54.00) scale(1 1.150)">Co</text>
<text transform="translate(191.95 133.10) rotate(-54.00) scale(1 1.150)">Ca</text>
<text transform="translate(199.45 140.60) rotate(-54.00) scale(1 1.150)">S</text>
<text transform="translate(206.95 148.10) rotate(-54.00) scale(1 1.150)">Zn</text>
<text transform="translate(214.45 155.60) rotate(-54.00) scale(1 1.150)">Na</text>
<text transform="translate(221.95 163.10) rotate(-54.00) scale(1 1.150)">Mg</text>
<text transform="translate(229.45 170.60) rotate(-54.00) scale(1 1.150)">P</text>
<text transform="translate(236.95 178.10) rotate(-54.00) scale(1 1.150)">K</text>
<text transform="translate(244.45 185.60) rotate(-54.00) scale(1 1.150)">Cu</text>
<text transform="translate(251.95 193.10) rotate(-54.00) scale(1 1.150)">Cr</text>
<text transform="translate(259.45 200.60) rotate(-54.00) scale(1 1.150)">C14:1 cis−9</text>
<text transform="translate(266.95 208.10) rotate(-54.00) scale(1 1.150)">C16:1 cis−9</text>
<text transform="translate(274.45 215.60) rotate(-54.00) scale(1 1.150)">C20:2</text>
<text transform="translate(281.95 223.10) rotate(-54.00) scale(1 1.150)">C18:3n3</text>
<text transform="translate(289.45 230.60) rotate(-54.00) scale(1 1.150)">C20:3n6</text>
<text transform="translate(296.95 238.10) rotate(-54.00) scale(1 1.150)">n6</text>
<text transform="translate(304.45 245.60) rotate(-54.00) scale(1 1.150)">C22:6</text>
<text transform="translate(311.95 253.10) rotate(-54.00) scale(1 1.150)">C18:2 cis−9,12</text>
<text transform="translate(319.45 260.60) rotate(-54.00) scale(1 1.150)">PUFA</text>
<text transform="translate(326.95 268.10) rotate(-54.00) scale(1 1.150)">C20:5</text>
<text transform="translate(334.45 275.60) rotate(-54.00) scale(1 1.150)">C20:4</text>
<text transform="translate(341.95 283.10) rotate(-54.00) scale(1 1.150)">C22:5</text>
<text transform="translate(349.45 290.60) rotate(-54.00) scale(1 1.150)">n3</text>
<text transform="translate(356.95 298.10) rotate(-54.00) scale(1 1.150)">C10:0</text>
<text transform="translate(364.45 305.60) rotate(-54.00) scale(1 1.150)">C12:0</text>
<text transform="translate(371.95 313.10) rotate(-54.00) scale(1 1.150)">C15:0</text>
<text transform="translate(379.45 320.60) rotate(-54.00) scale(1 1.150)">C14:0</text>
<text transform="translate(386.95 328.10) rotate(-54.00) scale(1 1.150)">C18:1 trans−10,11,12</text>
<text transform="translate(394.45 335.60) rotate(-54.00) scale(1 1.150)">C17:0</text>
<text transform="translate(401.95 343.10) rotate(-54.00) scale(1 1.150)">C18:3n6</text>
<text transform="translate(409.45 350.60) rotate(-54.00) scale(1 1.150)">C18:0</text>
<text transform="translate(416.95 358.10) rotate(-54.00) scale(1 1.150)">C16:0</text>
<text transform="translate(424.45 365.60) rotate(-54.00) scale(1 1.150)">SFA</text>
<text transform="translate(431.95 373.10) rotate(-54.00) scale(1 1.150)">C18:1 cis−15</text>
<text transform="translate(439.45 380.60) rotate(-54.00) scale(1 1.150)">C18:1 trans−16</text>
<text transform="translate(446.95 388.10) rotate(-54.00) scale(1 1.150)">WBSF</text>
<text transform="translate(454.45 395.60) rotate(-54.00) scale(1 1.150)">WBSF7</text>
<text transform="translate(461.95 403.10) rotate(-54.00) scale(1 1.150)">WBSF14</text>
<text transform="translate(469.45 410.60) rotate(-54.00) scale(1 1.150)">C18:1 cis−13</text>
<text transform="translate(476.95 418.10) rotate(-54.00) scale(1 1.150)">C18:1 cis−11</text>
<text transform="translate(484.45 425.60) rotate(-54.00) scale(1 1.150)">C18:1 cis−12</text>
<text transform="translate(491.95 433.10) rotate(-54.00) scale(1 1.150)">C17:1</text>
<text transform="translate(499.45 440.60) rotate(-54.00) scale(1 1.150)">C20:1</text>
<text transform="translate(506.95 448.10) rotate(-54.00) scale(1 1.150)">C18:1 cis−9</text>
<text transform="translate(514.45 455.60) rotate(-54.00) scale(1 1.150)">C18:1 total</text>
</g>
<defs><linearGradient id="g" x1="0" x2="1" y1="0" y2="0">
<stop offset="0.0000" stop-color="#67001f"/>
<stop offset="0.0250" stop-color="#7a0622"/>
<stop offset="0.0500" stop-color="#8c0c25"/>
<stop offset="0.0750" stop-color="#9f1228"/>
<stop offset="0.1000" stop-color="#b2182b"/>
<stop offset="0.1250" stop-color="#bb2a34"/>
<stop offset="0.1500" stop-color="#c43c3c"/>
<stop offset="0.1750" stop-color="#cd4e45"/>
<stop offset="0.2000" stop-color="#d6604d"/>
<stop offset="0.2250" stop-color="#de715a"/>
<stop offset="0.2500" stop-color="#e58268"/>
<stop offset="0.2750" stop-color="#ec9475"/>
<stop offset="0.3000" stop-color="#f4a582"/>
<stop offset="0.3250" stop-color="#f6b293"/>
<stop offset="0.3500" stop-color="#f8c0a5"/>
<stop offset="0.3750" stop-color="#fbceb6"/>
<stop offset="0.4000" stop-color="#fddbc7"/>
<stop offset="0.4250" stop-color="#fee4d5"/>
<stop offset="0.4500" stop-color="#feede3"/>
<stop offset="0.4750" stop-color="#fef6f1"/>
<stop offset="0.5000" stop-color="#ffffff"/>
<stop offset="0.5250" stop-color="#f4f8fb"/>
<stop offset="0.5500" stop-color="#e8f2f8"/>
<stop offset="0.5750" stop-color="#dcebf4"/>
<stop offset="0.6000" stop-color="#d1e5f0"/>
<stop offset="0.6250" stop-color="#c1ddec"/>
<stop offset="0.6500" stop-color="#b2d5e7"/>
<stop offset="0.6750" stop-color="#a2cde2"/>
<stop offset="0.7000" stop-color="#92c5de"/>
<stop offset="0.7250" stop-color="#7eb8d7"/>
<stop offset="0.7500" stop-color="#6aacd0"/>
<stop offset="0.7750" stop-color="#57a0ca"/>
<stop offset="0.8000" stop-color="#4393c3"/>
<stop offset="0.8250" stop-color="#3a88bd"/>
<stop offset="0.8500" stop-color="#327cb8"/>
<stop offset="0.8750" stop-color="#2a71b2"/>
<stop offset="0.9000" stop-color="#2166ac"/>
<stop offset="0.9250" stop-color="#1a5899"/>
<stop offset="0.9500" stop-color="#134b86"/>
<stop offset="0.9750" stop-color="#0c3e74"/>
<stop offset="1.0000" stop-color="#053061"/>
</linearGradient></defs>
<rect x="104.30" y="472.00" width="412.60" height="16.20" fill="url(#g)" stroke="#222" stroke-width="0.6"/>
<g stroke="#222" stroke-width="0.8">
<line x1="104.30" x2="104.30" y1="488.20" y2="491.60"/>
<line x1="145.56" x2="145.56" y1="488.20" y2="491.60"/>
<line x1="186.82" x2="186.82" y1="488.20" y2="491.60"/>
<line x1="228.08" x2="228.08" y1="488.20" y2="491.60"/>
<line x1="269.34" x2="269.34" y1="488.20" y2="491.60"/>
<line x1="310.60" x2="310.60" y1="488.20" y2="491.60"/>
<line x1="351.86" x2="351.86" y1="488.20" y2="491.60"/>
<line x1="393.12" x2="393.12" y1="488.20" y2="491.60"/>
<line x1="434.38" x2="434.38" y1="488.20" y2="491.60"/>
<line x1="475.64" x2="475.64" y1="488.20" y2="491.60"/>
<line x1="516.90" x2="516.90" y1="488.20" y2="491.60"/>
</g>
<g font-size="11.6" text-anchor="middle">
<text x="104.30" y="506.50">−1</text>
<text x="145.56" y="506.50">−0.8</text>
<text x="186.82" y="506.50">−0.6</text>
<text x="228.08" y="506.50">−0.4</text>
<text x="269.34" y="506.50">−0.2</text>
<text x="310.60" y="506.50">0</text>
<text x="351.86" y="506.50">0.2</text>
<text x="393.12" y="506.50">0.4</text>
<text x="434.38" y="506.50">0.6</text>
<text x="475.64" y="506.50">0.8</text>
<text x="516.90" y="506.50">1</text>
</g>
</svg></body></html>
